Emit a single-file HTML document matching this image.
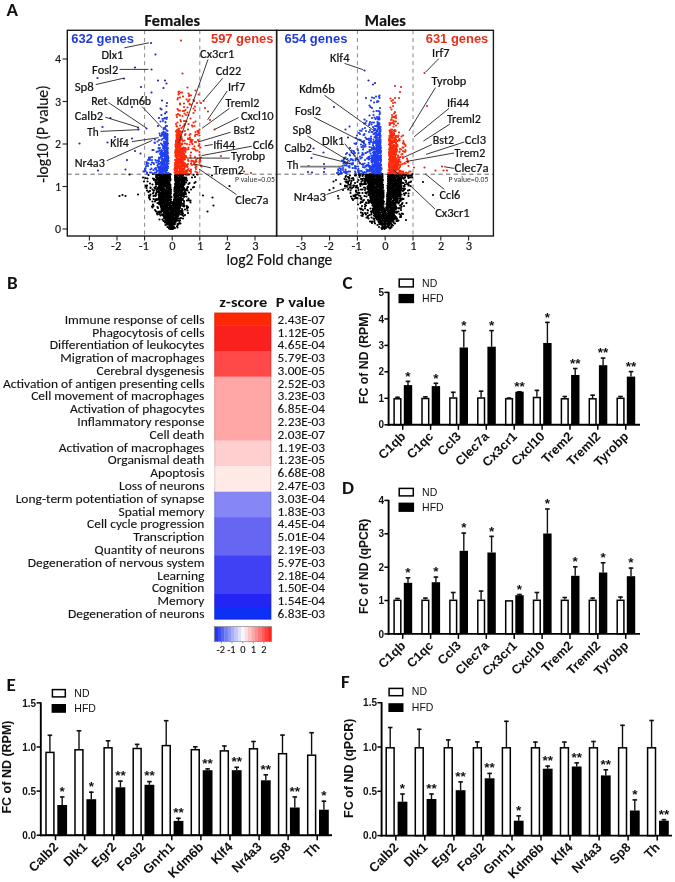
<!DOCTYPE html>
<html><head><meta charset="utf-8"><style>
html,body{margin:0;padding:0;background:#fff;}
svg{display:block;}
</style></head><body>
<svg width="675" height="882" viewBox="0 0 675 882" font-family="Carlito, 'Liberation Sans', sans-serif" fill="#111">
<rect width="675" height="882" fill="#fff"/>
<text x="6.6" y="16.4" font-size="19" font-weight="bold" textLength="11.5" lengthAdjust="spacingAndGlyphs">A</text>
<line x1="144.6" y1="30.3" x2="144.6" y2="236.0" stroke="#8a8a8a" stroke-width="1" stroke-dasharray="4,3.7"/>
<line x1="199.8" y1="30.3" x2="199.8" y2="236.0" stroke="#8a8a8a" stroke-width="1" stroke-dasharray="4,3.7"/>
<line x1="67.3" y1="174.2" x2="276.6" y2="174.2" stroke="#6a6a6a" stroke-width="1" stroke-dasharray="4.4,3.3"/>
<rect x="67.3" y="30.3" width="209.3" height="205.7" fill="none" stroke="#1a1a1a" stroke-width="1.4"/>
<line x1="89.4" y1="236.0" x2="89.4" y2="240.5" stroke="#222" stroke-width="1.1"/>
<text x="88.6" y="249.6" font-size="12.5" text-anchor="middle" textLength="10.2" lengthAdjust="spacingAndGlyphs" stroke="#111" stroke-width="0.15">-3</text>
<line x1="117.0" y1="236.0" x2="117.0" y2="240.5" stroke="#222" stroke-width="1.1"/>
<text x="116.2" y="249.6" font-size="12.5" text-anchor="middle" textLength="10.2" lengthAdjust="spacingAndGlyphs" stroke="#111" stroke-width="0.15">-2</text>
<line x1="144.6" y1="236.0" x2="144.6" y2="240.5" stroke="#222" stroke-width="1.1"/>
<text x="143.8" y="249.6" font-size="12.5" text-anchor="middle" textLength="10.2" lengthAdjust="spacingAndGlyphs" stroke="#111" stroke-width="0.15">-1</text>
<line x1="172.2" y1="236.0" x2="172.2" y2="240.5" stroke="#222" stroke-width="1.1"/>
<text x="172.5" y="249.6" font-size="12.5" text-anchor="middle" textLength="6.3" lengthAdjust="spacingAndGlyphs" stroke="#111" stroke-width="0.15">0</text>
<line x1="199.8" y1="236.0" x2="199.8" y2="240.5" stroke="#222" stroke-width="1.1"/>
<text x="200.1" y="249.6" font-size="12.5" text-anchor="middle" textLength="6.3" lengthAdjust="spacingAndGlyphs" stroke="#111" stroke-width="0.15">1</text>
<line x1="227.4" y1="236.0" x2="227.4" y2="240.5" stroke="#222" stroke-width="1.1"/>
<text x="227.7" y="249.6" font-size="12.5" text-anchor="middle" textLength="6.3" lengthAdjust="spacingAndGlyphs" stroke="#111" stroke-width="0.15">2</text>
<line x1="255.0" y1="236.0" x2="255.0" y2="240.5" stroke="#222" stroke-width="1.1"/>
<text x="255.3" y="249.6" font-size="12.5" text-anchor="middle" textLength="6.3" lengthAdjust="spacingAndGlyphs" stroke="#111" stroke-width="0.15">3</text>
<text x="172.2" y="26.1" font-size="16.3" text-anchor="middle" font-weight="bold" textLength="55.5" lengthAdjust="spacingAndGlyphs" stroke="#111" stroke-width="0.2">Females</text>
<line x1="357.4" y1="30.3" x2="357.4" y2="236.0" stroke="#8a8a8a" stroke-width="1" stroke-dasharray="4,3.7"/>
<line x1="413.0" y1="30.3" x2="413.0" y2="236.0" stroke="#8a8a8a" stroke-width="1" stroke-dasharray="4,3.7"/>
<line x1="276.6" y1="174.2" x2="493.4" y2="174.2" stroke="#6a6a6a" stroke-width="1" stroke-dasharray="4.4,3.3"/>
<rect x="276.6" y="30.3" width="216.8" height="205.7" fill="none" stroke="#1a1a1a" stroke-width="1.4"/>
<line x1="301.8" y1="236.0" x2="301.8" y2="240.5" stroke="#222" stroke-width="1.1"/>
<text x="301.0" y="249.6" font-size="12.5" text-anchor="middle" textLength="10.2" lengthAdjust="spacingAndGlyphs" stroke="#111" stroke-width="0.15">-3</text>
<line x1="329.6" y1="236.0" x2="329.6" y2="240.5" stroke="#222" stroke-width="1.1"/>
<text x="328.8" y="249.6" font-size="12.5" text-anchor="middle" textLength="10.2" lengthAdjust="spacingAndGlyphs" stroke="#111" stroke-width="0.15">-2</text>
<line x1="357.4" y1="236.0" x2="357.4" y2="240.5" stroke="#222" stroke-width="1.1"/>
<text x="356.6" y="249.6" font-size="12.5" text-anchor="middle" textLength="10.2" lengthAdjust="spacingAndGlyphs" stroke="#111" stroke-width="0.15">-1</text>
<line x1="385.2" y1="236.0" x2="385.2" y2="240.5" stroke="#222" stroke-width="1.1"/>
<text x="385.5" y="249.6" font-size="12.5" text-anchor="middle" textLength="6.3" lengthAdjust="spacingAndGlyphs" stroke="#111" stroke-width="0.15">0</text>
<line x1="413.0" y1="236.0" x2="413.0" y2="240.5" stroke="#222" stroke-width="1.1"/>
<text x="413.3" y="249.6" font-size="12.5" text-anchor="middle" textLength="6.3" lengthAdjust="spacingAndGlyphs" stroke="#111" stroke-width="0.15">1</text>
<line x1="440.8" y1="236.0" x2="440.8" y2="240.5" stroke="#222" stroke-width="1.1"/>
<text x="441.1" y="249.6" font-size="12.5" text-anchor="middle" textLength="6.3" lengthAdjust="spacingAndGlyphs" stroke="#111" stroke-width="0.15">2</text>
<line x1="468.6" y1="236.0" x2="468.6" y2="240.5" stroke="#222" stroke-width="1.1"/>
<text x="468.9" y="249.6" font-size="12.5" text-anchor="middle" textLength="6.3" lengthAdjust="spacingAndGlyphs" stroke="#111" stroke-width="0.15">3</text>
<text x="385.2" y="26.1" font-size="16.3" text-anchor="middle" font-weight="bold" textLength="41.0" lengthAdjust="spacingAndGlyphs" stroke="#111" stroke-width="0.2">Males</text>
<path d="M153 174h0m.5 0h0m4.5 .5h0m2.5 0h0m.5-.5h0m1 0h0m0 .5h0m1-.5h0m1 .5h0m2.5 0h0m.5-.5h0m0-.5h0m1 1h0m2-.5h0m5.5 0h0m0 0h0m2.5 .5h0m.5-1h0m1 .5h0m0 0h0m.5 0h0m2 0h0m1 0h0m1 0h0m1.5 .5h0m2.5 0h0m9 0h0m.5 0h0m-68 0h0m19 .5h0m7.5 0h0m.5 .5h0m0-1h0m2 1h0m.5-1h0m1.5 .5h0m0 0h0m1 0h0m1.5-.5h0m.5 .5h0m2 0h0m1 .5h0m2 0h0m1.5-.5h0m.5-.5h0m6.5 .5h0m.5 .5h0m.5 0h0m.5-1h0m1.5 .5h0m.5 .5h0m1.5-.5h0m1 .5h0m4-1h0m2 0h0m4.5 .5h0m-36 .5h0m0 .5h0m2-.5h0m0 .5h0m1 0h0m1.5-.5h0m1.5 1h0m3-.5h0m2.5-.5h0m.5 1h0m5.5-.5h0m0-.5h0m.5 1h0m1-.5h0m3.5 .5h0m0-1h0m1 0h0m.5 .5h0m1 .5h0m29.5-1h0m-69 2h0m13-.5h0m1 .5h0m.5 0h0m2 0h0m1-.5h0m1.5-.5h0m2 .5h0m1-.5h0m0 1h0m2.5-1h0m2.5 0h0m0 .5h0m6 0h0m1.5-.5h0m2 1h0m2.5 0h0m0-.5h0m13 0h0m-49.5 1h0m2 .5h0m9.5 0h0m1-.5h0m0 .5h0m1 0h0m4.5 0h0m.5-1h0m1.5 .5h0m1.5-.5h0m2 0h0m0 1h0m.5 0h0m.5-1h0m5 0h0m1 .5h0m1 .5h0m0-1h0m1 .5h0m.5-.5h0m1 1h0m2.5 0h0m1-1h0m.5 .5h0m.5-.5h0m.5 0h0m1.5 0h0m6 0h0m-39 1h0m1 .5h0m1 .5h0m2 0h0m1-.5h0m2 0h0m.5 0h0m1-.5h0m1 0h0m2.5 .5h0m1 0h0m2-.5h0m0 .5h0m2.5 0h0m4.5 0h0m1.5-.5h0m2.5 1h0m1 0h0m.5-1h0m4 .5h0m1 0h0m1-.5h0m-32.5 1.5h0m2 .5h0m2.5-1h0m0 1h0m1.5-.5h0m1-.5h0m2.5 .5h0m3 0h0m0 .5h0m.5-1h0m1 0h0m.5 .5h0m2 0h0m4.5 0h0m.5 .5h0m.5-1h0m1.5 1h0m0-.5h0m.5-.5h0m0 1h0m1 0h0m3-.5h0m0-.5h0m1 0h0m0 1h0m1.5 0h0m2-.5h0m.5 .5h0m-43 1h0m12-.5h0m2.5 0h0m1 0h0m.5-.5h0m1 1h0m.5-.5h0m1-.5h0m0 1h0m.5-1h0m1.5 0h0m1.5 1h0m2-.5h0m1 0h0m6.5 .5h0m2 0h0m2-.5h0m2-.5h0m0 .5h0m3 .5h0m-37 0h0m8 .5h0m2 0h0m1.5-.5h0m0 1h0m1-1h0m1 1h0m1.5-.5h0m1 .5h0m.5-1h0m.5 .5h0m2 0h0m.5-.5h0m1 1h0m0-.5h0m1-.5h0m.5 .5h0m0-.5h0m6.5 1h0m0-1h0m2.5 0h0m1 0h0m3 1h0m.5-.5h0m1.5 0h0m1.5 .5h0m9.5-.5h0m-45.5 1.5h0m6-.5h0m1.5-.5h0m1 .5h0m3 .5h0m0-1h0m.5 1h0m1-1h0m1.5 1h0m1.5-.5h0m1.5 0h0m2 0h0m6 .5h0m.5-1h0m2 .5h0m0-.5h0m2 .5h0m2-.5h0m2 .5h0m5.5 0h0m5 0h0m-38.5 1.5h0m0-.5h0m1.5 0h0m.5 0h0m.5-.5h0m0 .5h0m1.5-.5h0m2.5 .5h0m0 .5h0m1.5-1h0m1 .5h0m1 .5h0m1 0h0m1 0h0m.5-1h0m6.5 .5h0m1-.5h0m1 1h0m.5-1h0m1.5 0h0m0 0h0m2 0h0m0 .5h0m1.5-.5h0m.5 .5h0m1.5 0h0m0 .5h0m4-.5h0m-36 .5h0m6.5 0h0m1 1h0m.5-1h0m2 0h0m2 0h0m.5 1h0m3.5 0h0m1.5-.5h0m0-.5h0m.5 .5h0m7-.5h0m1 0h0m1 0h0m.5 .5h0m.5 .5h0m1.5-1h0m.5 .5h0m-36.5 .5h0m1 0h0m12 .5h0m.5-.5h0m0 1h0m2-1h0m2 0h0m0 .5h0m2.5 0h0m1 .5h0m0-1h0m1 0h0m7 1h0m.5-1h0m1.5 0h0m.5 .5h0m1.5-.5h0m1 .5h0m1.5 0h0m.5-.5h0m1 1h0m.5-1h0m46 .5h0m-83.5 .5h0m.5 0h0m9.5 0h0m0 0h0m3 1h0m.5-1h0m1 0h0m0 1h0m1.5-.5h0m.5-.5h0m.5 0h0m1 .5h0m1.5-.5h0m2 1h0m0-1h0m1.5 1h0m0-.5h0m0-.5h0m1.5 .5h0m5.5-.5h0m1 1h0m2-.5h0m0 .5h0m0-1h0m.5 1h0m1-1h0m2.5 0h0m4.5 .5h0m.5 0h0m5 .5h0m1-.5h0m-47.5 1h0m4 0h0m0-.5h0m4 0h0m.5 1h0m2.5-.5h0m.5-.5h0m.5 1h0m3-1h0m0 1h0m1.5-.5h0m1 .5h0m2.5-.5h0m2.5 .5h0m0 0h0m1.5-1h0m4 .5h0m1.5-.5h0m1 .5h0m2.5 .5h0m2-1h0m0 0h0m1 .5h0m1 .5h0m.5-.5h0m-27.5 1h0m.5 0h0m1.5 0h0m1.5 .5h0m0-1h0m1 .5h0m1.5 .5h0m0-1h0m.5 1h0m1-1h0m3 0h0m7.5 .5h0m.5-.5h0m2 1h0m2-1h0m.5 .5h0m0-.5h0m1.5 1h0m1.5-.5h0m1 .5h0m3.5-1h0m4 1h0m-38.5 0h0m1.5 1h0m2.5-.5h0m2.5 0h0m2 .5h0m1-.5h0m3-.5h0m0 .5h0m1-.5h0m.5 1h0m2-1h0m0 1h0m1.5-1h0m.5 1h0m0-1h0m.5 0h0m3.5 .5h0m.5 .5h0m.5-1h0m1 .5h0m.5 .5h0m1.5-1h0m.5 .5h0m2.5-.5h0m.5 0h0m.5 .5h0m1.5 0h0m1.5-.5h0m0 1h0m1.5-.5h0m.5 .5h0m-40.5 0h0m3 .5h0m3.5-.5h0m4.5 1h0m.5-.5h0m3-.5h0m1 0h0m1 1h0m0-.5h0m1 0h0m1 0h0m0 .5h0m4-.5h0m1 0h0m.5 0h0m3.5 .5h0m0-1h0m2 0h0m0 1h0m1-1h0m1.5 1h0m1.5-1h0m1.5 0h0m-33.5 1.5h0m.5-.5h0m4.5 1h0m3 0h0m.5-1h0m.5 .5h0m1.5 0h0m0-.5h0m2.5 0h0m1 .5h0m1.5 .5h0m1.5 0h0m1-1h0m1 0h0m1 1h0m.5-1h0m.5 1h0m1-1h0m4.5 0h0m.5 1h0m2.5-.5h0m2-.5h0m0 1h0m1-.5h0m0-.5h0m0 1h0m1 0h0m.5-1h0m2.5 0h0m.5 1h0m-24.5 0h0m.5 .5h0m1 .5h0m4.5-1h0m0 .5h0m.5 0h0m1.5 0h0m1.5 0h0m0 .5h0m.5-.5h0m3.5 .5h0m0 0h0m2.5-1h0m0 .5h0m0 .5h0m2 0h0m2.5 0h0m1-.5h0m1.5 0h0m5-.5h0m-51 2h0m15-1h0m0 0h0m3 0h0m3 .5h0m.5-.5h0m.5 0h0m1.5 1h0m0-1h0m2.5 0h0m1 .5h0m1-.5h0m1 0h0m1.5 1h0m2 0h0m5.5-1h0m.5 .5h0m2.5 0h0m0-.5h0m1.5 1h0m.5-.5h0m.5 0h0m3 .5h0m1-.5h0m.5 0h0m-63.5 1h0m28-.5h0m4.5 1h0m1-.5h0m2.5-.5h0m1 1h0m1-1h0m1 1h0m.5-1h0m2 0h0m1 0h0m2 0h0m3.5 0h0m0 .5h0m3.5 0h0m.5-.5h0m1.5 .5h0m2.5 0h0m.5 .5h0m2.5 0h0m1-1h0m0 .5h0m-63 1h0m6 0h0m23.5-.5h0m1 0h0m3.5 .5h0m2 0h0m3.5 0h0m1-.5h0m3 1h0m0-1h0m.5 1h0m1.5 0h0m0-1h0m0 .5h0m2-.5h0m.5 .5h0m0 .5h0m1-1h0m.5 .5h0m1 .5h0m.5-.5h0m4 .5h0m1-1h0m2 .5h0m.5-.5h0m1.5 0h0m1.5 1h0m1-.5h0m1 0h0m3.5 .5h0m16.5-1h0m-53.5 1.5h0m9.5 .5h0m1.5-1h0m0 0h0m.5 1h0m1.5-1h0m.5 1h0m2 0h0m1-1h0m1.5 .5h0m1 .5h0m1.5-.5h0m1.5 0h0m3 .5h0m1.5 0h0m.5-1h0m.5 1h0m1-.5h0m6 0h0m.5-.5h0m-35.5 1h0m10.5 .5h0m.5 0h0m.5 .5h0m1-.5h0m2.5 0h0m0-.5h0m2 0h0m2.5 1h0m1-.5h0m.5-.5h0m4.5 .5h0m.5 0h0m2.5-.5h0m1 1h0m1.5-1h0m1.5 1h0m0-.5h0m7 .5h0m24-1h0m-63 1h0m4 .5h0m1.5 .5h0m1.5-.5h0m1 0h0m1 0h0m1 .5h0m1.5 0h0m2.5 0h0m.5-1h0m2.5 0h0m.5 .5h0m1.5 0h0m1 0h0m1 0h0m.5 .5h0m5.5-1h0m1 0h0m2.5 1h0m3-.5h0m-33 .5h0m6 .5h0m1 0h0m.5-.5h0m2 .5h0m0-.5h0m1 1h0m1.5-1h0m.5 0h0m0 1h0m1.5-1h0m1 .5h0m.5-.5h0m1 0h0m2 .5h0m1-.5h0m4.5 1h0m0-1h0m1 0h0m2 0h0m1 1h0m.5-1h0m3 0h0m.5 0h0m.5 .5h0m6-.5h0m-36 2h0m7 0h0m0-1h0m1 0h0m1 1h0m.5-.5h0m5-.5h0m0 0h0m1.5 .5h0m2-.5h0m.5 1h0m3 0h0m.5 0h0m.5-1h0m1 0h0m1 .5h0m2 0h0m1.5 .5h0m.5-1h0m0 .5h0m3 0h0m3-.5h0m2 0h0m1.5 0h0m-35.5 1h0m4 1h0m1 0h0m2-.5h0m1-.5h0m.5 0h0m.5 0h0m2 0h0m.5 .5h0m.5-.5h0m1 0h0m2 1h0m2-.5h0m3.5 .5h0m2 0h0m0-1h0m1.5 .5h0m1 .5h0m1-.5h0m3 0h0m6.5 .5h0m-33 .5h0m2 .5h0m.5-.5h0m1-.5h0m1.5 .5h0m2 .5h0m0-1h0m2 1h0m.5-1h0m.5 .5h0m.5 0h0m.5 .5h0m1-.5h0m.5-.5h0m.5 0h0m.5 .5h0m1 0h0m2-.5h0m2.5 0h0m3 1h0m1 0h0m1-.5h0m-22.5 1h0m0 0h0m1.5 .5h0m2-1h0m1 0h0m3 1h0m.5-1h0m2.5 1h0m.5-.5h0m2-.5h0m1.5 0h0m1 0h0m.5 0h0m1.5 .5h0m.5-.5h0m1 1h0m.5-.5h0m1.5 .5h0m.5 0h0m.5-.5h0m2 0h0m1 0h0m-31 .5h0m7.5 .5h0m.5-.5h0m1 0h0m.5 0h0m0 .5h0m2.5-.5h0m0 0h0m2 .5h0m1 0h0m1-.5h0m3 1h0m1.5-1h0m.5 .5h0m1 0h0m.5-.5h0m.5 .5h0m1 0h0m.5 .5h0m1.5-.5h0m.5 0h0m4.5 .5h0m29.5 0h0m-61.5 1h0m1.5-.5h0m7-.5h0m1 .5h0m1 .5h0m.5-.5h0m1.5-.5h0m2 0h0m.5 .5h0m2-.5h0m.5 1h0m1-1h0m1 1h0m1 0h0m2-.5h0m.5-.5h0m.5 1h0m.5-.5h0m2.5 0h0m.5 0h0m0 .5h0m1.5-.5h0m.5-.5h0m2 .5h0m1 .5h0m2.5-.5h0m-34 1.5h0m5-.5h0m3.5 0h0m3.5 .5h0m0-1h0m1.5 0h0m1 0h0m3 .5h0m1.5 .5h0m.5 0h0m2-1h0m.5 0h0m.5 .5h0m2 .5h0m.5-1h0m0 .5h0m1.5 0h0m1 0h0m7 .5h0m.5-1h0m.5 1h0m-30 .5h0m3.5 .5h0m1.5-.5h0m0-.5h0m.5 1h0m2 0h0m0-.5h0m1.5-.5h0m1 0h0m.5 1h0m.5-.5h0m1.5 0h0m.5 .5h0m1-.5h0m1.5-.5h0m0 1h0m1 0h0m.5-1h0m3.5 .5h0m.5 0h0m1 0h0m7 .5h0m-25.5 1h0m.5 0h0m3-1h0m2.5 .5h0m0-.5h0m.5 .5h0m1 .5h0m1 0h0m1.5-.5h0m1 0h0m1.5 0h0m1 0h0m1-.5h0m.5 0h0m.5 .5h0m2 .5h0m3-.5h0m-27 1h0m6.5 .5h0m.5-1h0m1.5 0h0m2.5 1h0m.5-1h0m1 .5h0m2.5 0h0m1 0h0m1 .5h0m3-.5h0m1.5 .5h0m1 0h0m1-1h0m.5 0h0m3.5 1h0m2.5-1h0m2.5 1h0m-31 1h0m5 0h0m1.5-1h0m.5 .5h0m0 .5h0m1.5-1h0m.5 1h0m.5-.5h0m1 .5h0m1-1h0m2.5 .5h0m1 .5h0m.5-.5h0m1.5-.5h0m.5 .5h0m2.5 .5h0m1.5-1h0m.5 .5h0m1.5-.5h0m1.5 .5h0m26 .5h0m-51.5 0h0m2.5 .5h0m1-.5h0m5 .5h0m1.5 .5h0m.5-1h0m1.5 0h0m0 .5h0m2 0h0m2 0h0m2.5-.5h0m1 .5h0m0 .5h0m2-1h0m2.5 0h0m0 1h0m2.5-.5h0m-23.5 .5h0m0 0h0m2 0h0m3 .5h0m0-.5h0m.5 1h0m1 0h0m1.5-.5h0m.5-.5h0m4.5 .5h0m0 0h0m1-.5h0m3 .5h0m.5 0h0m2-.5h0m0 0h0m3 .5h0m1.5 .5h0m5-.5h0m-31 .5h0m2.5 .5h0m4 0h0m.5 0h0m2 0h0m1.5 0h0m1.5-.5h0m2 0h0m0 1h0m0-.5h0m1.5 .5h0m1-1h0m.5 .5h0m1-.5h0m.5 1h0m2 0h0m0-1h0m1.5 1h0m0-1h0m3.5 1h0m-25 0h0m3 1h0m1.5-1h0m1 0h0m0 0h0m0 1h0m.5-1h0m0 1h0m4.5-.5h0m1.5 0h0m0 0h0m1.5 .5h0m1.5 0h0m.5-.5h0m4 0h0m1.5 .5h0m2.5-1h0m1.5 .5h0m2.5 0h0m-21 1.5h0m1.5-1h0m1.5 0h0m1.5 1h0m3.5-1h0m1.5 0h0m1 0h0m1.5 1h0m1 0h0m6.5-.5h0m-17.5 .5h0m1 0h0m2.5 0h0m.5 1h0m1-1h0m.5 .5h0m.5 0h0m.5 0h0m0 0h0m1.5 .5h0m3.5 0h0m.5-1h0m-14 1.5h0m.5 0h0m1-.5h0m2 0h0m.5 .5h0m2-.5h0m2.5 .5h0m0 .5h0m2 0h0m.5-.5h0m1-.5h0m4.5 .5h0m.5 0h0m2 .5h0m-23.5 1h0m3 0h0m3-.5h0m.5-.5h0m1 0h0m.5 0h0m0 .5h0m1.5 .5h0m.5-1h0m.5 1h0m1-.5h0m1.5 .5h0m2.5 0h0m.5-1h0m.5 1h0m.5-1h0m1.5 0h0m2 0h0m-14 1.5h0m0-.5h0m.5 0h0m.5 .5h0m4.5 0h0m.5-.5h0m.5 1h0m1-.5h0m.5 0h0m1 0h0m1.5 .5h0m.5-.5h0m1.5 .5h0m-15 .5h0m1.5-.5h0m1 1h0m0-1h0m.5 .5h0m1-.5h0m1 1h0m.5-1h0m1 0h0m1.5 1h0m3.5-.5h0m1 .5h0m.5-.5h0m1-.5h0m2.5 0h0m-14 1.5h0m1.5 .5h0m.5-1h0m0 .5h0m1 0h0m2.5 .5h0m1-1h0m.5 .5h0m1 .5h0m1.5-.5h0m0 0h0m-10.5 .5h0m4 .5h0m0-.5h0m1 0h0m1 .5h0m1.5 .5h0m2 0h0m5-1h0m-13 1.5h0m.5-.5h0m1 0h0m0 1h0m1.5-.5h0m2.5 0h0m1 .5h0m.5-1h0m1 1h0m.5-.5h0m2.5 0h0m1 0h0m2-.5h0m-15 1.5h0m1-.5h0m3 1h0m.5-.5h0m0-.5h0m1.5 0h0m1.5 .5h0m4.5 .5h0m-7.5 0h0m.5 1h0m.5-.5h0m.5-.5h0m1 1h0m4.5 0h0m-9.5 .5h0m2-.5h0m.5 .5h0m1.5 0h0m.5-.5h0m1 .5h0m1 0h0m-5 1.5h0m0-.5h0m1.5-.5h0m0 .5h0m.5 .5h0m2-1h0m.5 1h0m1.5-.5h0m2.5-.5h0m-7.5 1.5h0m1.5 0h0m.5-.5h0m1 .5h0" stroke="#000" stroke-width="2.2" stroke-linecap="round" fill="none"/>
<path d="M165 118h0m2-.5h0m0 0h0m-4.5 1.5h0m1.5-.5h0m2.5 .5h0m-3.5 2h0m-2.5 .5h0m5 .5h0m0 .5h0m.5 3.5h0m1 0h0m-3 2h0m1-.5h0m-1.5 1.5h0m2 0h0m1 1h0m-3 1.5h0m4-.5h0m-4 1.5h0m-1.5 .5h0m3.5-.5h0m-6 1h0m2.5 1h0m1.5 0h0m1.5-.5h0m1 .5h0m1-.5h0m.5 0h0m0 0h0m-2.5 1h0m.5 .5h0m2-1h0m-7.5 1h0m1 .5h0m2.5 0h0m.5 0h0m3 0h0m.5-.5h0m0 .5h0m-3 .5h0m.5 .5h0m2 0h0m-3 1h0m2.5-.5h0m1 .5h0m-5 1h0m3-.5h0m0 .5h0m2 0h0m-12.5 .5h0m4 .5h0m2.5 0h0m5 .5h0m.5 .5h0m.5 0h0m-13 1.5h0m3-1h0m6.5 0h0m0 .5h0m1 0h0m.5 0h0m-10.5 1h0m9.5-.5h0m.5 1h0m.5-1h0m1 0h0m1 .5h0m0 0h0m.5 .5h0m-7 0h0m3 0h0m.5 .5h0m2 0h0m-7.5 1h0m3-.5h0m.5 1h0m2 0h0m1.5-.5h0m1.5 .5h0m-4 1.5h0m0-.5h0m.5 .5h0m1 0h0m1.5-.5h0m-8 1.5h0m.5 .5h0m1-.5h0m3 0h0m1.5 0h0m1-.5h0m1.5 .5h0m1 0h0m-3.5 .5h0m2 .5h0m.5 0h0m.5 0h0m-14 1h0m6 .5h0m2-.5h0m2.5 0h0m.5 0h0m2 0h0m.5 0h0m.5 0h0m-5.5 1h0m3 0h0m1 .5h0m.5-.5h0m1 0h0m-11 1h0m1-.5h0m1 0h0m2.5 .5h0m2 .5h0m2-1h0m1 .5h0m1 .5h0m.5-1h0m-7 1.5h0m4 0h0m3.5 0h0m-8 1h0m.5 0h0m1.5 0h0m.5-.5h0m1.5 .5h0m2 0h0m1.5-.5h0m-5.5 1h0m1 0h0m1 .5h0m2-.5h0m1.5 .5h0m-6.5 1h0m1 0h0m.5 0h0m.5 0h0m1.5 0h0m1 0h0m.5 0h0m0-.5h0m.5 .5h0m1.5 0h0m-18 1.5h0m2-.5h0m9 0h0m1 0h0m3 .5h0m0-.5h0m.5 .5h0m2 0h0m.5-.5h0m0 0h0m-19 .5h0m0 1h0m1-.5h0m9-.5h0m.5 .5h0m9 0h0m-9.5 .5h0m2.5 .5h0m1 0h0m.5 .5h0m1.5-1h0m.5 1h0m1.5-1h0m0 .5h0m1.5 0h0m-20 1h0m2 0h0m2 0h0m0 0h0m3.5 0h0m.5 .5h0m3-.5h0m3.5 0h0m2.5 0h0m.5 0h0m1.5 0h0m1 0h0m-10 .5h0m.5 1h0m.5 0h0m3-.5h0m.5 0h0m.5 .5h0m0-.5h0m1.5 0h0m1 0h0m2 .5h0m1-.5h0m-22 1.5h0m0-.5h0m5.5 .5h0m9-.5h0m3 0h0m1 0h0m2 0h0m-19.5 1h0m.5 .5h0m.5 0h0m5-.5h0m3-.5h0m4.5 .5h0m2 0h0m0-.5h0m1.5 0h0m2.5 .5h0m1.5 .5h0m-21.5 .5h0m4 .5h0m3-.5h0m4.5 0h0m0-.5h0m1 .5h0m2-.5h0m.5 0h0m1.5 .5h0m0 0h0m.5-.5h0m2 .5h0m.5 0h0m1 0h0m-21 .5h0m15 .5h0m1 0h0m1 0h0m.5 0h0m1 0h0m-17 1h0m9.5-.5h0m1.5 1h0m2-.5h0m2.5 0h0m2.5 0h0m1 0h0m.5 0h0m-21.5 .5h0m12 .5h0m2 0h0m.5 .5h0m2 0h0m1-.5h0m1 0h0m0 0h0m1.5-.5h0m0 .5h0m2-.5h0m-22.5 2h0m6 0h0m4.5-.5h0m2.5 0h0m3-.5h0m1 .5h0m1 .5h0m1.5-.5h0m2 0h0m1 0h0m-23 .5h0m10 0h0m4 .5h0m.5 0h0m1.5 0h0m0 0h0m1.5 0h0m2.5-.5h0m1.5 1h0m0-1h0m.5 1h0m.5-1h0m-22.5 1.5h0m5.5-.5h0m3 .5h0m2.5-.5h0m.5 .5h0m2.5 .5h0m1 0h0m2.5-.5h0m2 0h0m2 0h0m.5 .5h0m-22.5 .5h0m1 0h0m11.5 .5h0m.5-.5h0m3 .5h0m0-.5h0m1.5 0h0m1 0h0m.5-.5h0m1 .5h0m1 0h0m-22 .5h0m3.5 1h0m8 0h0m1 0h0m4-.5h0m1 0h0m1.5 .5h0m0-.5h0m3.5 0h0m-19 1.5h0m3-1h0m1.5 0h0m7.5 .5h0m1 0h0m2 .5h0m1-.5h0m2 0h0m1 0h0m.5 0h0m0 .5h0m2-.5h0m-15 .5h0m9 0h0" stroke="#1f3ff0" stroke-width="2.2" stroke-linecap="round" fill="none"/>
<path d="M151 43h0m4.5 11.5h0m-20.5 13h0m16.5 2h0m-54 8.5h0m26.5 .5h0m34 2h0m7 0h0m1.5 3h0m-25.5 3.5h0m22.5 1h0m-12 4.5h0m10.5 8h0m5 2.5h0m-.5 3h0m-34.5 1h0m28.5 1.5h0m1 1h0m5 2.5h0m-1.5 1.5h0m-3.5 1.5h0m-51 3h0m48.5 0h0m-1 8h0m-55.5 1h0m35.5 .5h0m8.5 1h0m-8 1h0m-23.5 7.5h0m17 1.5h0m-52.5 5h0m28-1h0m45 7.5h0m-17.5 1h0m5.5 2.5h0m-13.5 6.5h0m-1.5 9.5h0m-27.5 1h0" stroke="#2626b8" stroke-width="2.2" stroke-linecap="round" fill="none"/>
<path d="M179 91.5h0m-.5 .5h0m2.5 .5h0m1 0h0m6.5 1h0m-9.5 0h0m-.5 1h0m11 .5h0m1.5 .5h0m-2 .5h0m-9 1.5h0m-2 .5h0m11.5 1.5h0m-12 0h0m9 0h0m2 1h0m-.5 1h0m.5-.5h0m1 3h0m.5 .5h0m1 0h0m-7 2.5h0m3.5 .5h0m6 1h0m-16 .5h0m1 1.5h0m1.5 0h0m5.5-.5h0m-2.5 1h0m1 0h0m11-.5h0m-7.5 2h0m-9.5 1.5h0m6.5-.5h0m-8 1.5h0m3 0h0m6.5 0h0m2.5 0h0m-8.5 .5h0m2.5 .5h0m-5.5 1h0m3.5 3h0m.5 1.5h0m3-.5h0m1 0h0m1.5 .5h0m7 1h0m-16 0h0m-1.5 1.5h0m8.5 0h0m0 1h0m7.5 .5h0m-15.5 .5h0m.5 .5h0m3-1h0m3 1h0m11.5-.5h0m-2 .5h0m-13.5 2h0m2.5-.5h0m-4 1.5h0m-1 1h0m2.5 0h0m0-.5h0m20.5-.5h0m-23.5 2h0m1 0h0m1-1h0m2 .5h0m2.5 .5h0m2.5-.5h0m12.5 0h0m1 0h0m-22 1h0m3 0h0m2 0h0m14 0h0m2.5 0h0m-19.5 1.5h0m0-1h0m1 .5h0m19.5 0h0m-22 1h0m2 0h0m0-.5h0m1 .5h0m.5 0h0m5 0h0m10 .5h0m2 0h0m-21 1h0m0-1h0m3.5 1h0m9.5-.5h0m10 .5h0m-23 .5h0m1.5-.5h0m.5 .5h0m16.5 0h0m-18 .5h0m1.5 0h0m1.5 .5h0m1.5 0h0m-5 1h0m.5 0h0m.5-.5h0m1 0h0m.5 .5h0m2.5 0h0m6.5 .5h0m2-1h0m-12.5 1h0m1 .5h0m2 .5h0m1-.5h0m6.5 0h0m1.5 0h0m1.5 .5h0m-14.5 .5h0m1.5-.5h0m1 .5h0m3-.5h0m2.5 1h0m8-.5h0m5.5 0h0m-22 1h0m0-.5h0m.5 1h0m.5-1h0m1 .5h0m.5 .5h0m2-1h0m2.5 .5h0m7.5 0h0m1.5 0h0m6.5 0h0m-22.5 1h0m.5 0h0m14 0h0m4.5 0h0m1 0h0m-20 1h0m1 0h0m1.5-.5h0m.5 0h0m.5 0h0m.5 .5h0m2 .5h0m.5 0h0m2.5 0h0m6.5-1h0m-16 2h0m2.5-1h0m.5 .5h0m1.5-.5h0m0 .5h0m7 0h0m5.5 0h0m7 0h0m-23.5 1.5h0m.5-1h0m0 .5h0m.5 0h0m1.5 0h0m2 .5h0m1.5-1h0m7.5 0h0m9.5 1h0m-23.5 .5h0m1 .5h0m1 0h0m1.5-1h0m1 .5h0m.5 0h0m18 0h0m-22 1.5h0m2.5-.5h0m.5 0h0m4 .5h0m5 0h0m6-1h0m6 1h0m-24.5 0h0m0 .5h0m2-.5h0m2.5 .5h0m2 0h0m2 0h0m1 0h0m7 .5h0m-16 0h0m1 .5h0m1.5-.5h0m.5 .5h0m.5-.5h0m.5 .5h0m.5 .5h0m0-.5h0m1 0h0m2 0h0m4.5 0h0m5.5 0h0m1 .5h0m-19.5 .5h0m.5-.5h0m2 1h0m4-.5h0m1 .5h0m2-.5h0m.5 0h0m1.5-.5h0m9 1h0m-20 .5h0m0 0h0m1.5-.5h0m1 0h0m0 .5h0m.5 0h0m0-.5h0m1 .5h0m1 0h0m16.5-.5h0m-22.5 1.5h0m1 0h0m1.5-.5h0m4.5 0h0m1.5 .5h0m1-.5h0m1 .5h0m14 0h0m-24 1.5h0m1-.5h0m1.5-.5h0m.5 0h0m1.5 0h0m1 .5h0m1.5 0h0m0 0h0m-6 1.5h0m2-.5h0m.5 0h0m1 0h0m2.5 .5h0m2-.5h0m-9 1h0m1-.5h0m2.5 .5h0m.5-.5h0m2.5 1h0m1-1h0m.5 0h0m7 1h0m9-.5h0m-24 .5h0m.5 1h0m0-1h0m1 1h0m0-1h0m2.5 .5h0m1-.5h0m.5 0h0m.5 .5h0m1.5 .5h0m2-.5h0m1 0h0m-10.5 .5h0m2.5 .5h0m2 0h0m2 .5h0m2.5 0h0m2 0h0m4 0h0m4.5-.5h0m6 .5h0m-24.5 0h0m4.5 .5h0m0 .5h0m1 0h0m1 0h0m.5-.5h0m1 .5h0m.5-.5h0m12.5 .5h0m2.5-.5h0m-23.5 1.5h0m0-.5h0m.5 0h0m1-.5h0m1.5 .5h0m-4.5 1h0m2.5-.5h0m3 1h0m.5-1h0m1.5 0h0m.5 .5h0m0-.5h0m1 0h0m1 0h0m3 .5h0m3.5 .5h0m4.5-.5h0m4-.5h0m-24 1.5h0m1.5-.5h0m.5 1h0m.5-1h0m1 .5h0m1 .5h0m1-.5h0m7 0h0m0 0h0m3 0h0m0 .5h0m1.5-.5h0m1.5 .5h0m2 0h0m3-.5h0m1 0h0m-24.5 1h0m.5 0h0m2.5-.5h0m1.5 .5h0m1 0h0m.5-.5h0m.5 1h0m1-.5h0m12 0h0m-20.5 1h0m2 0h0m1.5-.5h0m2 .5h0m0 .5h0m2 0h0m1.5-.5h0m1 .5h0m9-.5h0m5.5-.5h0m-23 1h0m.5 .5h0m1.5 0h0m1.5-.5h0m3.5 .5h0m1 .5h0m3.5-.5h0m3-.5h0m3 .5h0m0 .5h0m-19 .5h0m.5-.5h0m2 0h0m.5 .5h0m.5 0h0m2 .5h0m.5 0h0m.5-1h0m0 0h0m1 1h0m2-.5h0m1.5-.5h0m1 1h0m4.5-1h0m.5 .5h0m3.5 0h0m5.5 .5h0m-26 .5h0m0-.5h0m1.5 1h0m.5-1h0m0 1h0m2-.5h0m1 .5h0m1 0h0m1 0h0m2-.5h0m12.5 .5h0m-21.5 1h0m3.5 0h0m.5-.5h0m.5 0h0m2 .5h0m0-.5h0m2.5-.5h0m1 0h0m0 .5h0m1-.5h0m1.5 .5h0m8.5-.5h0m-19.5 2h0m.5-1h0m2 1h0m1-1h0m2 0h0m1 1h0m1.5-.5h0m11-.5h0m-21 1.5h0m.5 0h0m2-.5h0m0 1h0m2.5-.5h0m1 0h0m1 .5h0m1-.5h0m5.5 .5h0m.5-.5h0m7.5 0h0m-21.5 .5h0m.5 1h0m1-.5h0m1 .5h0m2.5 0h0m4.5-1h0m3.5 .5h0m3.5-.5h0m0 .5h0m-14.5 .5h0m.5 1h0m3-1h0m2 .5h0m.5-.5h0m1 0h0m.5 .5h0m2-.5h0m0 0h0m3.5 .5h0m-14.5 1.5h0m.5-1h0m1.5 0h0m1 0h0m1 1h0m0-.5h0m1.5 0h0m0-.5h0m1.5 1h0m.5-1h0m1 0h0m0 1h0m1 0h0m.5-1h0m1.5 .5h0m.5-.5h0m4 .5h0m4.5-.5h0m1.5 1h0m-22.5 0h0m2 1h0m1.5 0h0m1-1h0m2 1h0m1.5-1h0m.5 1h0m1 0h0m0-1h0m.5 .5h0m.5 .5h0m1.5 0h0m1.5 0h0m2.5 0h0m7-1h0m-21.5 1h0m3 0h0m6.5 0h0" stroke="#ff2a0c" stroke-width="2.2" stroke-linecap="round" fill="none"/>
<path d="M181 40.5h0m1.5 33h0m5 14h0m8 3h0m3 4h0m-15.5 2h0m10.5 3.5h0m.5 1h0m9.5 0h0m-23.5 2.5h0m17-.5h0m4 0h0m-17 .5h0m-4 1h0m15 2h0m10 1.5h0m3 3.5h0m-14.5 1.5h0m-3 5.5h0m19.5 1.5h0m-14.5 1.5h0m-7 2.5h0m-.5 5.5h0m26.5 0h0m-24 4.5h0m-5.5 1h0m6 17.5h0m30 3.5h0m-19.5 10.5h0m42.5 5h0m7 1.5h0" stroke="#d82c1c" stroke-width="2.2" stroke-linecap="round" fill="none"/>
<path d="M355.5 174h0m3.5 0h0m4 .5h0m.5-.5h0m3.5 .5h0m1.5 0h0m1.5-.5h0m1.5 0h0m.5-.5h0m.5 .5h0m.5 0h0m2 .5h0m1-.5h0m1.5 0h0m.5 0h0m1 0h0m3.5 0h0m5.5 .5h0m1.5 0h0m1-.5h0m0 0h0m1.5 .5h0m2-.5h0m1 0h0m2 0h0m3.5 .5h0m1.5-1h0m.5 .5h0m10 0h0m-74 .5h0m17.5 1h0m3-.5h0m1.5-.5h0m2.5 .5h0m2.5 0h0m0 0h0m.5-.5h0m3.5 .5h0m1.5-.5h0m3 .5h0m.5 0h0m0-.5h0m2 .5h0m.5-.5h0m1.5 .5h0m.5 .5h0m.5-1h0m.5 1h0m1-1h0m1 0h0m.5 1h0m5.5-1h0m.5 1h0m2.5-1h0m1.5 1h0m.5-1h0m1.5 0h0m.5 1h0m1-1h0m.5 1h0m0-1h0m2.5 0h0m.5 .5h0m1 0h0m3-.5h0m1 1h0m0-1h0m1.5 1h0m.5-1h0m0 1h0m4 0h0m-64.5 .5h0m4-.5h0m5 0h0m5 0h0m2.5 .5h0m3 .5h0m1 0h0m1-1h0m1.5 .5h0m1.5 .5h0m.5-1h0m1.5 .5h0m2.5 .5h0m0-1h0m2.5 0h0m.5 .5h0m3 .5h0m1.5 0h0m0-.5h0m0-.5h0m5.5 1h0m.5 0h0m.5 0h0m1.5-1h0m1 1h0m2.5-1h0m2 .5h0m1-.5h0m.5 1h0m1.5-1h0m.5 0h0m1.5 .5h0m0-.5h0m1 .5h0m1-.5h0m5.5 0h0m1.5 .5h0m1.5-.5h0m.5 .5h0m-66.5 1h0m2.5 0h0m1 .5h0m10.5-.5h0m8-.5h0m.5 1h0m.5-.5h0m.5 .5h0m1.5 0h0m1.5-.5h0m1.5-.5h0m1 .5h0m2-.5h0m1 0h0m2 0h0m1.5 .5h0m1 0h0m6 0h0m.5 0h0m2 0h0m1.5 0h0m1.5-.5h0m.5 .5h0m3-.5h0m1 .5h0m1.5 .5h0m1-1h0m.5 .5h0m.5 .5h0m.5-.5h0m6-.5h0m2 1h0m2 0h0m-59 .5h0m13-.5h0m1 1h0m3-1h0m.5 .5h0m1 0h0m.5 0h0m3 .5h0m2-.5h0m0 .5h0m0-.5h0m.5-.5h0m1 0h0m1.5 .5h0m2.5-.5h0m5.5 1h0m1-1h0m2.5 0h0m.5 .5h0m2 0h0m2-.5h0m0 0h0m2 1h0m3.5 0h0m2-.5h0m1 0h0m.5-.5h0m3.5 .5h0m-64 1h0m4.5-.5h0m2.5 0h0m2 .5h0m7.5 0h0m1 0h0m1.5-.5h0m1.5 .5h0m2 .5h0m1.5 0h0m.5-1h0m0 0h0m1.5 .5h0m1-.5h0m.5 1h0m1.5-1h0m.5 1h0m1.5 0h0m1.5 0h0m1.5 0h0m1-.5h0m.5 .5h0m2-1h0m.5 .5h0m5.5 .5h0m1.5-1h0m0 1h0m.5-.5h0m1.5-.5h0m1 .5h0m.5-.5h0m.5 .5h0m1-.5h0m1 .5h0m4-.5h0m0 .5h0m.5-.5h0m3.5 0h0m-67.5 1.5h0m10.5-.5h0m7 .5h0m5 0h0m6.5-.5h0m1.5 .5h0m0 .5h0m1-.5h0m4.5-.5h0m.5 .5h0m.5 .5h0m4-.5h0m1.5 0h0m2-.5h0m.5 1h0m0-1h0m1 1h0m1-.5h0m5 0h0m0 0h0m4-.5h0m1 1h0m1.5-1h0m1 0h0m0 .5h0m1.5-.5h0m1.5 0h0m.5 .5h0m2 .5h0m0-1h0m4.5 1h0m-72 1h0m12 0h0m4-1h0m2 .5h0m11-.5h0m2 .5h0m1 0h0m2 .5h0m.5-.5h0m1.5-.5h0m0 0h0m1 0h0m1.5 0h0m1.5 .5h0m1.5-.5h0m0 1h0m1.5 0h0m1 0h0m1 0h0m.5-1h0m1.5 0h0m1 .5h0m0 .5h0m7.5-1h0m0 .5h0m2-.5h0m.5 0h0m1.5 .5h0m1.5-.5h0m.5 .5h0m1.5-.5h0m1.5 0h0m1 .5h0m1.5 0h0m.5-.5h0m5 .5h0m-58.5 .5h0m1 0h0m9 .5h0m4-.5h0m3.5 .5h0m4 .5h0m.5-1h0m1 .5h0m1.5 0h0m0-.5h0m2 1h0m1 0h0m1-1h0m4.5 1h0m2-.5h0m5.5-.5h0m2.5 .5h0m.5-.5h0m1 .5h0m1-.5h0m3 .5h0m1-.5h0m1 0h0m1.5 .5h0m2.5 .5h0m4-.5h0m3 .5h0m1.5-.5h0m.5-.5h0m12 .5h0m-76.5 .5h0m1.5 .5h0m3 0h0m4 0h0m9.5 0h0m.5-.5h0m0 .5h0m2.5-.5h0m2 0h0m.5 .5h0m.5 .5h0m0-.5h0m2 0h0m3.5-.5h0m.5 .5h0m1.5-.5h0m.5 .5h0m.5 .5h0m1-1h0m1 0h0m0 1h0m1 0h0m6 0h0m1-1h0m.5 .5h0m0 .5h0m.5-1h0m2 1h0m2 0h0m.5-1h0m1 .5h0m.5 0h0m1.5-.5h0m.5 0h0m1.5 .5h0m0-.5h0m1.5 1h0m.5 0h0m0-1h0m2 .5h0m-63 1h0m8 .5h0m2 0h0m9.5-.5h0m1-.5h0m.5 .5h0m2 0h0m1 0h0m1.5 0h0m2.5-.5h0m.5 0h0m.5 .5h0m1 0h0m1 0h0m0-.5h0m1.5 1h0m1.5-1h0m1 1h0m2.5-1h0m1.5 0h0m.5 0h0m1 1h0m.5-.5h0m1.5 .5h0m7.5-.5h0m1-.5h0m1 0h0m.5 .5h0m2.5 0h0m.5 .5h0m1.5-.5h0m.5-.5h0m1 0h0m8 .5h0m1 0h0m-57.5 1.5h0m3 0h0m9-1h0m6 .5h0m1.5 .5h0m1-1h0m0 .5h0m.5 0h0m2.5 .5h0m2-1h0m1 0h0m.5 1h0m0-1h0m.5 0h0m1 .5h0m.5 0h0m2.5 .5h0m6 0h0m.5-1h0m.5 1h0m3-1h0m0 1h0m1.5 0h0m1-1h0m1.5 1h0m.5-1h0m2.5 1h0m1.5-1h0m0 .5h0m.5 .5h0m4-1h0m-60 1h0m0 1h0m1.5-.5h0m.5 0h0m7-.5h0m2 .5h0m0 0h0m1 0h0m3.5 0h0m9.5 0h0m2 .5h0m.5-1h0m.5 .5h0m.5 .5h0m3.5-1h0m1.5 .5h0m.5 0h0m2.5-.5h0m0 1h0m1-.5h0m.5 0h0m4.5-.5h0m1 0h0m1.5 .5h0m1 0h0m0-.5h0m1 1h0m2-1h0m.5 1h0m1.5-1h0m.5 .5h0m1 .5h0m.5-1h0m1 0h0m1 0h0m1.5 0h0m2.5 1h0m0-.5h0m.5 .5h0m4-1h0m2 .5h0m-57 1h0m3 0h0m11-.5h0m1 .5h0m.5-.5h0m.5 0h0m2 .5h0m2.5 0h0m1-.5h0m.5 1h0m1 0h0m0-1h0m1.5 .5h0m1 0h0m1-.5h0m8 0h0m1.5 1h0m2.5-.5h0m.5 0h0m1 0h0m0 .5h0m2.5-1h0m1.5 .5h0m1.5 0h0m1.5-.5h0m0 .5h0m1 0h0m-68 1h0m16.5-.5h0m1.5 1h0m.5-.5h0m4-.5h0m2 .5h0m6-.5h0m1.5 .5h0m2.5 0h0m1.5-.5h0m.5 0h0m1.5 1h0m.5-.5h0m1.5-.5h0m.5 0h0m1 .5h0m.5 .5h0m2.5-1h0m2 .5h0m1-.5h0m.5 1h0m1-1h0m.5 0h0m0 .5h0m4.5 0h0m1.5 0h0m.5 0h0m.5-.5h0m1.5 0h0m.5 1h0m2.5 0h0m.5 0h0m1.5 0h0m.5-1h0m1.5 .5h0m.5-.5h0m1 1h0m.5-1h0m0 0h0m3 1h0m-55 .5h0m19 0h0m1.5 0h0m1.5 0h0m0 .5h0m.5-1h0m2.5 0h0m1.5 0h0m.5 0h0m.5 1h0m1 0h0m0-1h0m.5 0h0m.5 1h0m1 0h0m1.5-.5h0m1 0h0m1-.5h0m5.5 .5h0m0 .5h0m0-1h0m1 1h0m1.5-1h0m0 1h0m1-1h0m2.5 1h0m1-.5h0m0 .5h0m1.5-.5h0m1 0h0m1.5 0h0m1.5 0h0m.5-.5h0m.5 0h0m3 .5h0m.5 0h0m-75.5 1h0m13.5 0h0m5-.5h0m10.5 .5h0m2.5-.5h0m1.5 0h0m2.5 .5h0m3.5 0h0m1 0h0m3 0h0m1-.5h0m2 1h0m4 0h0m2 0h0m.5 0h0m.5-1h0m5.5 1h0m2-.5h0m.5 .5h0m1.5-1h0m1 0h0m0 .5h0m1 .5h0m1-.5h0m1.5 0h0m.5 .5h0m1 0h0m.5-.5h0m1 .5h0m.5-1h0m0 .5h0m1.5 .5h0m1 0h0m1.5-.5h0m5.5 0h0m-59 .5h0m5.5 0h0m13 0h0m1 0h0m.5 0h0m1.5 0h0m1 1h0m.5-1h0m2 0h0m0 1h0m0-.5h0m1.5-.5h0m0 1h0m2-1h0m1 0h0m0 .5h0m2 0h0m1 .5h0m0-.5h0m.5-.5h0m4.5 .5h0m1-.5h0m2 1h0m4-.5h0m1 0h0m1.5 .5h0m2-1h0m3.5 .5h0m5-.5h0m-52 1h0m.5 .5h0m9.5 .5h0m1 0h0m1-.5h0m1 0h0m1.5-.5h0m0 1h0m.5-.5h0m1-.5h0m2.5 .5h0m0 .5h0m2.5 0h0m1-1h0m.5 .5h0m1 0h0m0 .5h0m.5-1h0m.5 0h0m3 .5h0m4 .5h0m.5 0h0m1-1h0m.5 .5h0m.5-.5h0m2 0h0m1 .5h0m2 0h0m2 0h0m0 0h0m1.5 .5h0m.5-1h0m1 0h0m-49.5 1.5h0m8-.5h0m1 .5h0m3 0h0m3-.5h0m0 .5h0m.5 0h0m.5 .5h0m3 0h0m1-.5h0m.5 .5h0m.5-1h0m1 .5h0m.5 .5h0m.5-1h0m2 .5h0m.5 0h0m2 .5h0m2.5-1h0m1 .5h0m1 .5h0m0-1h0m1 .5h0m5.5 .5h0m1-1h0m.5 0h0m0 .5h0m1.5 0h0m.5-.5h0m.5 0h0m0 1h0m.5-.5h0m1.5 .5h0m1-.5h0m0-.5h0m2 0h0m1 0h0m1.5 0h0m5.5 .5h0m-50.5 1.5h0m2-.5h0m9-.5h0m2.5 .5h0m2-.5h0m2 .5h0m1.5 0h0m2.5-.5h0m1 .5h0m1-.5h0m.5 .5h0m1-.5h0m3 1h0m4-1h0m1.5 .5h0m.5 0h0m2 .5h0m.5 0h0m1.5 0h0m.5-.5h0m3.5-.5h0m1.5 0h0m.5 .5h0m.5 0h0m4-.5h0m1 0h0m3.5 0h0m-52.5 1.5h0m3 .5h0m9.5-.5h0m1-.5h0m.5 1h0m1.5-1h0m2 1h0m1.5-.5h0m1.5 0h0m1.5 .5h0m0-1h0m2 .5h0m1-.5h0m1 .5h0m5 0h0m0 0h0m1.5 .5h0m.5-.5h0m.5 0h0m2-.5h0m0 .5h0m3.5-.5h0m1 .5h0m.5-.5h0m.5 0h0m1 1h0m1-.5h0m0 0h0m1.5 .5h0m1-1h0m3 .5h0m28.5 0h0m-95 1h0m13 .5h0m2.5-1h0m0 .5h0m1-.5h0m.5 .5h0m5.5 0h0m4 0h0m2 .5h0m4 0h0m1.5 0h0m.5-1h0m1.5 1h0m.5-1h0m.5 1h0m1.5-1h0m.5 .5h0m1 .5h0m1 0h0m1.5 0h0m.5-1h0m0 1h0m1-1h0m.5 1h0m.5-1h0m.5 0h0m0 1h0m6.5-.5h0m1.5-.5h0m1 1h0m.5-1h0m1 .5h0m1 .5h0m3 0h0m1 0h0m1.5 0h0m8-.5h0m-38.5 1h0m0 0h0m2 .5h0m0-.5h0m1 0h0m1-.5h0m0 .5h0m1.5 0h0m1 .5h0m3 0h0m1.5-.5h0m1.5 0h0m4.5-.5h0m.5 0h0m0 1h0m2-1h0m1 0h0m0 1h0m1.5-.5h0m.5 .5h0m1-.5h0m2 0h0m1-.5h0m-44.5 2h0m2.5 0h0m1.5-.5h0m.5-.5h0m0 0h0m1 .5h0m4 0h0m9 0h0m1.5 .5h0m.5 0h0m1-1h0m1.5 .5h0m1-.5h0m1 .5h0m1.5 .5h0m1 0h0m1-1h0m2 .5h0m.5 0h0m.5-.5h0m5 0h0m1 1h0m1-.5h0m.5 .5h0m2.5-.5h0m.5-.5h0m.5 1h0m2-.5h0m.5 .5h0m0-1h0m1 1h0m2 0h0m-61.5 0h0m19 0h0m3 0h0m1 1h0m9.5 0h0m.5-.5h0m5 .5h0m1-.5h0m.5 0h0m1.5 .5h0m1 0h0m1-1h0m1 .5h0m.5 0h0m4 0h0m.5 0h0m.5-.5h0m.5 .5h0m5 .5h0m0-1h0m2 1h0m2.5-1h0m3 0h0m0 1h0m1 0h0m.5-1h0m1 .5h0m-50.5 1h0m11 0h0m4 0h0m1.5 .5h0m2 0h0m1 0h0m1 0h0m0-1h0m1 .5h0m.5-.5h0m4.5 .5h0m.5 0h0m1.5 0h0m1-.5h0m5 1h0m1.5 0h0m1.5-.5h0m.5-.5h0m3.5 0h0m.5 1h0m0-.5h0m.5 .5h0m1.5 0h0m.5-1h0m2 1h0m-36.5 .5h0m5.5 .5h0m1.5-.5h0m1.5 0h0m2.5 0h0m1.5 .5h0m1-1h0m.5 0h0m1.5 0h0m2.5 0h0m2 0h0m.5 1h0m.5 0h0m3-.5h0m1.5 0h0m1 0h0m.5-.5h0m0 .5h0m2.5 0h0m1-.5h0m1 0h0m1.5 1h0m.5 0h0m1 0h0m3-.5h0m-39.5 1h0m1.5 0h0m3.5 .5h0m3.5 0h0m2-.5h0m1 0h0m2 0h0m1 0h0m1.5 0h0m1-.5h0m1 0h0m1.5 1h0m0-1h0m1.5 0h0m.5 1h0m4.5 0h0m1-1h0m.5 1h0m0-.5h0m2 0h0m1 0h0m1.5-.5h0m0 .5h0m4 0h0m2 .5h0m-38.5 .5h0m6 0h0m2 0h0m3.5 0h0m1.5-.5h0m2 .5h0m.5 .5h0m1-.5h0m1-.5h0m1.5 0h0m0 1h0m0 0h0m1-.5h0m2 .5h0m1-1h0m3.5 1h0m2-.5h0m0 .5h0m1-1h0m.5 0h0m3 0h0m.5 .5h0m1-.5h0m.5 1h0m0-1h0m1.5 0h0m1.5 1h0m4-.5h0m4 0h0m-41.5 1.5h0m7-1h0m.5 .5h0m1.5-.5h0m1 .5h0m.5-.5h0m1 .5h0m1 .5h0m1-1h0m0 .5h0m1.5 .5h0m1.5 0h0m2-1h0m0 1h0m3-.5h0m1.5-.5h0m1 1h0m0 0h0m.5-.5h0m1 0h0m.5-.5h0m1 1h0m.5-1h0m0 .5h0m1-.5h0m.5 0h0m0 .5h0m8 0h0m-44 .5h0m8 1h0m6.5 0h0m.5-1h0m1 .5h0m1.5-.5h0m1 .5h0m2 .5h0m1-1h0m2 1h0m.5-.5h0m.5 0h0m.5 0h0m3.5-.5h0m.5 .5h0m2.5 .5h0m1.5-.5h0m1.5 0h0m2 0h0m1 0h0m4.5 .5h0m1.5-1h0m-39.5 1.5h0m3 .5h0m8-1h0m2 .5h0m.5-.5h0m0 1h0m2-1h0m0 .5h0m1.5-.5h0m1 .5h0m1 0h0m0-.5h0m1 1h0m5.5-1h0m1.5 1h0m.5-.5h0m.5-.5h0m.5 .5h0m0-.5h0m3.5 0h0m.5 .5h0m.5-.5h0m5.5 0h0m3.5 .5h0m-30.5 .5h0m.5 .5h0m1 .5h0m.5-.5h0m.5 0h0m1 0h0m.5 0h0m0 .5h0m2-.5h0m.5 .5h0m.5-1h0m0 0h0m1 .5h0m1 .5h0m1-.5h0m3 0h0m.5-.5h0m.5 1h0m1-1h0m1.5 .5h0m2 .5h0m0-.5h0m1 .5h0m1-.5h0m1.5 0h0m.5 0h0m0-.5h0m5.5 0h0m-40 2h0m3.5 0h0m8 0h0m2-1h0m1 1h0m1.5-.5h0m1 0h0m3.5-.5h0m1 .5h0m0-.5h0m3 .5h0m2 0h0m1-.5h0m.5 0h0m1 1h0m1.5 0h0m2.5-.5h0m2.5 0h0m2 .5h0m0-.5h0m2 0h0m-41 .5h0m10.5 0h0m2.5 .5h0m.5 .5h0m1-.5h0m.5-.5h0m1 .5h0m0 .5h0m.5 0h0m1.5-.5h0m1-.5h0m1.5 1h0m.5-1h0m.5 .5h0m2 0h0m.5-.5h0m0 .5h0m2.5 0h0m1.5 .5h0m0 0h0m.5 0h0m4 0h0m1-.5h0m1.5 .5h0m0-1h0m1 .5h0m-35 .5h0m2 .5h0m4.5 0h0m6.5 0h0m1.5 .5h0m2.5-.5h0m1 .5h0m2 0h0m1.5-1h0m.5 .5h0m1 0h0m1 0h0m5.5-.5h0m.5 .5h0m2 0h0m8 0h0m-33 .5h0m4.5 0h0m1 1h0m1-1h0m1.5 .5h0m.5-.5h0m1 0h0m4 .5h0m1 .5h0m0-1h0m1 0h0m1 0h0m0 .5h0m2-.5h0m.5 0h0m1.5 0h0m0 1h0m1.5-1h0m1.5 .5h0m2 0h0m1-.5h0m0 1h0m4 0h0m-27.5 0h0m1.5 0h0m1 .5h0m2.5-.5h0m2 0h0m.5 1h0m0-1h0m.5 0h0m.5 1h0m1 0h0m1-1h0m1 1h0m1.5-.5h0m1-.5h0m3 0h0m.5 .5h0m1 .5h0m1-.5h0m.5 0h0m0-.5h0m.5 1h0m3-.5h0m2-.5h0m-35.5 1h0m1.5 .5h0m2.5 0h0m2.5 0h0m4 0h0m3 0h0m1-.5h0m0 .5h0m1 0h0m2-.5h0m2 .5h0m4 .5h0m1.5-.5h0m1 .5h0m0 0h0m1 0h0m1 0h0m3 0h0m.5-.5h0m0-.5h0m1 .5h0m1-.5h0m2 .5h0m.5-.5h0m-25.5 2h0m2.5-1h0m1.5 .5h0m1 .5h0m1-.5h0m1 0h0m.5-.5h0m1 .5h0m.5 .5h0m2.5-1h0m1.5 1h0m0-1h0m1 0h0m.5 1h0m2.5 0h0m2-1h0m0 1h0m3-.5h0m6 0h0m2.5-.5h0m1 .5h0m-41.5 1.5h0m1.5-1h0m3 0h0m3.5 .5h0m5.5-.5h0m1 1h0m2 0h0m2-1h0m.5 .5h0m1 0h0m1-.5h0m1 .5h0m0-.5h0m1.5 1h0m1.5 0h0m1 0h0m.5 0h0m.5-1h0m1.5 1h0m2 0h0m1.5-1h0m.5 1h0m0-1h0m6.5 .5h0m-38 1h0m5.5 0h0m6-.5h0m.5 .5h0m1 .5h0m1.5-1h0m1.5 0h0m1 0h0m.5 1h0m.5-.5h0m1 0h0m2 .5h0m1 0h0m3.5 0h0m.5-.5h0m1.5 .5h0m1 0h0m1-.5h0m3 0h0m6 0h0m-34.5 1.5h0m5 0h0m5.5-1h0m1.5 0h0m1.5 .5h0m1.5 0h0m1-.5h0m1 1h0m1 0h0m0-.5h0m1 .5h0m1.5-1h0m2.5 .5h0m1 .5h0m1-.5h0m2-.5h0m1 1h0m1-.5h0m.5 0h0m4 0h0m1 0h0m-34.5 .5h0m1.5 .5h0m.5 .5h0m5.5 0h0m2-.5h0m1.5 0h0m.5-.5h0m.5 .5h0m.5-.5h0m.5 1h0m2-.5h0m1-.5h0m4.5 0h0m0 .5h0m1.5 0h0m4.5-.5h0m0 1h0m1-.5h0m3 .5h0m-23.5 0h0m.5 .5h0m3.5 .5h0m1.5 0h0m1-.5h0m2-.5h0m1.5 0h0m1.5 .5h0m1.5-.5h0m.5 .5h0m1.5 .5h0m1-1h0m2 0h0m1.5 .5h0m2 0h0m.5-.5h0m1 0h0m-22 1.5h0m2.5-.5h0m1.5 1h0m1.5-1h0m4.5 0h0m.5 .5h0m1.5 0h0m0-.5h0m1.5 .5h0m1 0h0m0 0h0m1-.5h0m.5 .5h0m1 .5h0m1.5 0h0m.5-.5h0m3.5 0h0m1.5 .5h0m7.5-.5h0m-36 1.5h0m8.5-1h0m.5 .5h0m.5 0h0m1.5 .5h0m.5-1h0m.5 .5h0m.5-.5h0m1.5 0h0m1.5 0h0m1 .5h0m1 .5h0m1.5-.5h0m7.5 0h0m1 0h0m-26.5 .5h0m1.5 0h0m2 .5h0m4-.5h0m0 0h0m1 .5h0m1 .5h0m0-1h0m.5 1h0m0-.5h0m3-.5h0m1.5 0h0m2.5 .5h0m1 0h0m1-.5h0m1.5 0h0m2 1h0m0-1h0m-21.5 1h0m0 .5h0m7-.5h0m.5 1h0m2 0h0m.5 0h0m0-1h0m2.5 0h0m.5 1h0m.5-1h0m0 0h0m1.5 1h0m1 0h0m.5-1h0m1 0h0m1 0h0m0 .5h0m4 .5h0m-19.5 0h0m4.5 .5h0m4-.5h0m.5 0h0m1 1h0m2-.5h0m2-.5h0m.5 .5h0m1.5-.5h0m4 0h0m-17.5 1.5h0m3.5-.5h0m.5 0h0m1 1h0m.5-.5h0m4.5 0h0m1.5-.5h0m0 1h0m.5-.5h0m2.5-.5h0m1 1h0m-10.5 1h0m2.5-1h0m2 1h0m1.5-.5h0m3 0h0m-12.5 1h0m3 .5h0m2-.5h0m1 0h0m0 .5h0m0-1h0m1 .5h0m2 0h0m0-.5h0m3.5 1h0m-10 .5h0m1.5 0h0m1 .5h0m2-.5h0m3-.5h0m1 1h0m.5-1h0m-8.5 1.5h0m2.5-.5h0m0 .5h0" stroke="#000" stroke-width="2.2" stroke-linecap="round" fill="none"/>
<path d="M379.5 95.5h0m-3.5 1h0m3 0h0m-7 1h0m2 .5h0m5.5 0h0m-8.5 2.5h0m6.5 .5h0m-3.5 1.5h0m3-.5h0m1.5-.5h0m-9 4h0m1 1.5h0m1.5 1h0m8 0h0m0 0h0m-3.5 3h0m2 0h0m-5 .5h0m6 0h0m.5 1.5h0m-.5 1.5h0m-6 .5h0m1 2.5h0m2.5-.5h0m2 0h0m-7 1h0m5.5 .5h0m2 0h0m-4 .5h0m4 .5h0m-1.5 0h0m-11.5 1.5h0m3.5 1h0m2 .5h0m2 0h0m3.5 0h0m0-.5h0m-12 1h0m13 0h0m.5 0h0m-15 .5h0m5.5 0h0m2 1h0m8-.5h0m-10.5 1h0m8.5-.5h0m.5 1h0m-3 .5h0m1.5 0h0m2.5 0h0m-6 1h0m4-.5h0m1.5 .5h0m1.5 0h0m.5 0h0m-15.5 1h0m9 .5h0m4.5-1h0m.5 .5h0m1 0h0m-17.5 1h0m13 0h0m2.5 0h0m2-.5h0m.5 1h0m-10.5 .5h0m4 .5h0m2 0h0m2-1h0m2 .5h0m.5 0h0m0 0h0m-20.5 .5h0m1.5 .5h0m4.5 0h0m0 0h0m11.5 0h0m2.5-.5h0m-11 1.5h0m2.5 0h0m1 0h0m7 0h0m1-.5h0m-21.5 1.5h0m16 0h0m1.5-.5h0m2.5 .5h0m1 .5h0m-20 .5h0m4.5 0h0m9 0h0m.5 0h0m2 0h0m.5 0h0m.5 0h0m2 0h0m1 0h0m0-.5h0m-23 2h0m6.5-.5h0m.5 0h0m14 0h0m2 0h0m.5 .5h0m-9.5 1h0m4.5-.5h0m1.5-.5h0m2.5 0h0m-14 2h0m9-.5h0m1.5-.5h0m.5 .5h0m.5 0h0m2.5 0h0m.5 0h0m.5 0h0m-24.5 1h0m13 .5h0m7-.5h0m1 0h0m2 0h0m-12.5 1h0m1.5 0h0m3-.5h0m5 0h0m4 .5h0m-21 .5h0m1.5 .5h0m8.5 0h0m2 0h0m2.5-.5h0m2.5 1h0m1 0h0m0-.5h0m.5 .5h0m1-.5h0m.5 0h0m1.5-.5h0m-18.5 2h0m2-.5h0m6.5 .5h0m8 0h0m.5-.5h0m.5 0h0m1-.5h0m-18 1.5h0m1 0h0m8 0h0m2.5-.5h0m1.5 .5h0m2-.5h0m1 .5h0m1.5 0h0m.5 .5h0m0-1h0m-24 1.5h0m7.5 .5h0m5-1h0m.5 0h0m4 0h0m1.5 .5h0m.5-.5h0m1 .5h0m.5 0h0m2-.5h0m.5 .5h0m1 0h0m-26 .5h0m1.5 .5h0m9.5 .5h0m4-.5h0m3.5 0h0m4 0h0m1.5 0h0m1 0h0m-18.5 .5h0m12 1h0m3-.5h0m1 .5h0m.5-1h0m.5 0h0m1 .5h0m1-.5h0m.5 1h0m-17.5 0h0m2 .5h0m.5 .5h0m12-1h0m1 0h0m.5 .5h0m1-.5h0m.5 1h0m-19 .5h0m8 0h0m4.5 0h0m2.5-.5h0m.5 1h0m1-.5h0m1 0h0m-15.5 .5h0m8 0h0m2 .5h0m1.5 0h0m2 0h0m2.5 0h0m1.5 0h0m-23.5 1h0m5.5 .5h0m9-.5h0m.5 .5h0m2-1h0m.5 0h0m.5 .5h0m3-.5h0m1 1h0m.5-.5h0m-10.5 1h0m2 0h0m3-.5h0m2 .5h0m1-.5h0m2 .5h0m1 0h0m-29 .5h0m2 .5h0m4.5-.5h0m12.5 0h0m3.5 1h0m4-.5h0m1.5 0h0m1.5 0h0m-29.5 1.5h0m2.5-1h0m13.5 .5h0m2-.5h0m3.5 1h0m.5-.5h0m2 .5h0m.5-1h0m.5 0h0m1.5 1h0m0-1h0m1.5 .5h0m1 0h0m.5 0h0m-34 1h0m6.5 .5h0m1.5-.5h0m3.5 0h0m4 0h0m3 0h0m.5 0h0m8 0h0m2-.5h0m3 .5h0m0 0h0m1.5-.5h0m0 1h0m-34.5 .5h0m17.5 .5h0m7-1h0m3.5 .5h0m2 0h0m0 0h0m2-.5h0m0 .5h0m2-.5h0m-30.5 1h0m.5 1h0m12-.5h0m11 .5h0m.5-.5h0m1.5 0h0m1 .5h0m1.5-1h0m-23 1h0m5.5 1h0m9.5 0h0m2-1h0m1.5 .5h0m1.5 0h0m1.5 .5h0m1-1h0m1.5 .5h0m.5 0h0m1 0h0m.5 .5h0m.5-1h0m-35.5 2h0m23-.5h0m3.5 .5h0m2-.5h0m1 0h0m1-.5h0m2 .5h0m1 0h0m2 .5h0m-37 .5h0m.5 .5h0m13-.5h0m3 .5h0m1.5-1h0m5.5 1h0m2 0h0m3.5-.5h0m1 0h0m1.5 0h0m1.5-.5h0m0 1h0m1.5-.5h0m.5 0h0m1 0h0m0-.5h0m.5 0h0m0 .5h0m-36.5 1h0m3.5 0h0m3.5 0h0m4.5 0h0m1.5 0h0m10-.5h0m2 1h0m2.5-1h0m1.5 .5h0m2 0h0m1-.5h0m2 .5h0m1 0h0m1.5 .5h0m-38.5 1h0m1.5 0h0m7-.5h0m2-.5h0m3 1h0m3-.5h0m6.5 0h0m6.5 .5h0m1-.5h0m2-.5h0m.5 .5h0m1 0h0m1.5-.5h0m2 .5h0m1.5-.5h0m-28 1h0m5.5 .5h0m14.5 0h0m2 0h0m1.5 0h0m1.5-.5h0m3 .5h0m0-.5h0m-36 1.5h0m2.5 0h0m24 0h0m1 0h0m2 0h0m0 0h0m1 0h0m2.5-.5h0m0 0h0m2.5 .5h0m-36.5 .5h0m2.5 1h0m3.5 0h0m1.5 0h0m1.5-.5h0m6.5 0h0m.5 .5h0m4.5 0h0m4-.5h0m6.5 .5h0m.5-.5h0m.5-.5h0m0 1h0m0-1h0m1.5 1h0m1-.5h0m1 0h0m0 .5h0m-36 0h0m2 0h0m2 0h0m5.5 .5h0m7-.5h0m2.5 .5h0m10 0h0m3 0h0m.5 0h0m.5 0h0m1.5 0h0m1-.5h0m0 1h0m1.5-.5h0m-28.5 .5h0m11 .5h0m4 0h0m1.5 0h0m4 0h0m0 0h0m1 .5h0m1-1h0m.5 1h0m.5-.5h0m1.5 0h0m4-.5h0m0 1h0m-38.5 .5h0m2-.5h0m2 0h0m2 1h0m1-.5h0m5.5 0h0m1 .5h0m9.5-.5h0m.5 .5h0m4-.5h0m5 0h0m1 0h0m1 0h0m2-.5h0m1.5 .5h0m-31 1.5h0m8.5-1h0m5 .5h0m2.5-.5h0m3 0h0m3 .5h0m.5-.5h0m.5 .5h0m2 .5h0m0-1h0m2 0h0m1 1h0m1-.5h0m1.5 0h0m.5 0h0m-41 1h0m3.5 0h0m9.5 0h0m2 0h0m10-.5h0m5.5 .5h0m1.5 0h0m.5 0h0m2 0h0m2 0h0m1.5 .5h0m.5-1h0m1.5 .5h0m1-.5h0m1 .5h0m-43.5 1.5h0m3-.5h0m15-.5h0m2.5 .5h0m8 .5h0m3.5-.5h0m1 0h0m2 0h0m3-.5h0m1 0h0m1.5 .5h0m1.5 0h0m1 .5h0m.5-.5h0m-41 1.5h0m2.5-.5h0m2.5-.5h0m22 .5h0m2-.5h0m0 1h0m3-1h0m.5 .5h0m1.5 .5h0m.5-.5h0m1-.5h0m.5 0h0m.5 0h0m.5 .5h0m1.5 0h0m.5 .5h0m.5-1h0m0 .5h0m.5 .5h0m-42 0h0m7 .5h0m3 .5h0m1.5 0h0m8-1h0m1 .5h0m2 0h0m.5 0h0m9.5 0h0m.5 0h0m3.5-.5h0m2 0h0m.5 .5h0m2 0h0m.5 .5h0m-39 .5h0m3 0h0m3 0h0m8-.5h0m3.5 .5h0m.5 .5h0m5.5-.5h0m2.5-.5h0m2 0h0m3 .5h0m1.5 0h0m0 0h0m1.5 0h0m0 .5h0m1 0h0m1-1h0m1 .5h0m.5 0h0m2 0h0m-43.5 1h0m1-.5h0m3 1h0m1-.5h0m3.5 0h0m1 .5h0m9-.5h0m5.5 .5h0m2-1h0m3 0h0m5.5 .5h0m.5-.5h0m.5 .5h0m2 0h0m1 0h0m.5 .5h0m1.5-.5h0m1.5 0h0m0 .5h0m.5-1h0m1 1h0m.5-.5h0m-41 .5h0m34.5 0h0" stroke="#1f3ff0" stroke-width="2.2" stroke-linecap="round" fill="none"/>
<path d="M364.5 70.5h0m4 10h0m6.5 2.5h0m-2 1.5h0m-7 13.5h0m-32 9h0m35.5 8.5h0m-5 4h0m-15 7h0m-4 3h0m2.5 8h0m2 10.5h0m-36.5 .5h0m10 4h0m-12 5.5h0m12.5 6h0m-15.5 2h0m16 2.5h0m-16.5 3.5h0m16 0h0m-12 .5h0" stroke="#2626b8" stroke-width="2.2" stroke-linecap="round" fill="none"/>
<path d="M390.5 98.5h0m2.5 1.5h0m-1.5 1h0m1.5 2h0m2-.5h0m-2 3.5h0m-2.5 1.5h0m4.5 5h0m0-.5h0m-1 1.5h0m-2 1.5h0m3.5 1.5h0m.5-1h0m-3.5 1.5h0m1.5 0h0m1 .5h0m-3 0h0m4 .5h0m-5 2h0m.5-.5h0m2 1h0m0 .5h0m2 .5h0m.5 0h0m-2.5 .5h0m-4 1h0m1.5 0h0m1.5 0h0m5.5 .5h0m-4 .5h0m-4.5 1h0m.5-.5h0m6 1h0m-2.5 1h0m-2.5 3h0m-1.5 1h0m2.5-1h0m2 1h0m.5-.5h0m.5 0h0m-5 1h0m2 .5h0m3.5-1h0m0 .5h0m-5.5 1h0m2 0h0m2 0h0m-4 .5h0m1 .5h0m.5 0h0m-1 .5h0m.5 .5h0m2 0h0m1 .5h0m0-1h0m-3 1h0m1 .5h0m1 0h0m-3.5 .5h0m.5 .5h0m1.5-.5h0m2 0h0m1 0h0m2 .5h0m2-.5h0m3 1h0m-12 .5h0m2-.5h0m1 0h0m1 1h0m2.5-.5h0m2 0h0m-8 .5h0m1.5 0h0m.5 1h0m3-.5h0m.5 0h0m-6.5 1h0m1 .5h0m4.5-1h0m0 .5h0m1.5 .5h0m3 0h0m.5-.5h0m-9.5 1h0m4 0h0m1.5 .5h0m4 0h0m-10.5 0h0m.5 .5h0m.5 0h0m1.5 0h0m.5-.5h0m.5 1h0m5-.5h0m6 0h0m-14 .5h0m1 .5h0m1.5 0h0m0-.5h0m1 .5h0m1 0h0m9.5 .5h0m-14 .5h0m.5 0h0m0 0h0m.5 0h0m1 0h0m1 .5h0m3-1h0m.5 0h0m7 1h0m-13.5 .5h0m1.5 0h0m5-.5h0m1 1h0m7.5-.5h0m-15.5 .5h0m1 .5h0m1 .5h0m2 0h0m1-.5h0m1 .5h0m2.5-.5h0m8 0h0m-15.5 1h0m2.5 .5h0m2.5-.5h0m1.5 0h0m1 .5h0m8-.5h0m-15.5 1.5h0m0-.5h0m2 .5h0m1.5-1h0m.5 0h0m.5 .5h0m1.5 0h0m6.5 .5h0m-13 .5h0m1 0h0m.5 .5h0m1-.5h0m.5 0h0m.5-.5h0m1 .5h0m2 0h0m0-.5h0m7.5 0h0m-13 1.5h0m2 .5h0m0-.5h0m.5 0h0m1.5 0h0m1 .5h0m0-.5h0m1 0h0m3.5 0h0m1 .5h0m-12 0h0m1 1h0m1.5-1h0m2 .5h0m1.5 0h0m.5 .5h0m1.5-1h0m8.5 .5h0m-14.5 1.5h0m0-.5h0m.5 0h0m2 0h0m3.5 0h0m2.5 .5h0m3.5-.5h0m.5 .5h0m2-.5h0m-16.5 1h0m3 0h0m2 0h0m1.5-.5h0m1 .5h0m3 0h0m5.5 0h0m-16 1h0m1.5 0h0m2.5-.5h0m2 0h0m1 .5h0m-5.5 1.5h0m1.5-1h0m.5 .5h0m.5 0h0m1.5-.5h0m0 .5h0m8 0h0m-13.5 1h0m2.5 .5h0m2.5-.5h0m1.5-.5h0m0 1h0m.5-1h0m2 1h0m3.5-1h0m-11.5 1h0m.5 1h0m1.5-.5h0m2 0h0m-4.5 .5h0m1 .5h0m2 0h0m.5 0h0m2 0h0m0-.5h0m3 .5h0m1 .5h0m1.5-.5h0m2.5 0h0m-12.5 1h0m3.5 0h0m1 0h0m1 0h0m.5 .5h0m6.5-.5h0m-14 1.5h0m.5-1h0m.5 .5h0m.5 0h0m1.5 0h0m.5 0h0m1 0h0m1 0h0m4.5 0h0m.5 .5h0m7.5-1h0m-17.5 1.5h0m1.5 0h0m1 0h0m1 0h0m2 0h0m2 0h0m1 .5h0m1.5-.5h0m8 0h0m-18 1.5h0m1 0h0m1.5-.5h0m.5 0h0m0-.5h0m1.5 .5h0m.5-.5h0m1.5 .5h0m1 .5h0m.5-.5h0m1.5 .5h0m9 0h0m-18 .5h0m.5 .5h0m.5-.5h0m2 .5h0m.5-.5h0m.5 0h0m2.5 0h0m0 .5h0m4-.5h0m7 0h0m.5 0h0m-19 1h0m1-.5h0m1.5 .5h0m2 0h0m.5 0h0m1-.5h0m1 .5h0m1 .5h0m1-.5h0m2.5-.5h0m4 .5h0m1 .5h0m-16.5 1h0m.5 0h0m1.5 0h0m.5-.5h0m2 .5h0m0-.5h0m1 .5h0m1.5-.5h0m1-.5h0m.5 .5h0m5 0h0m2-.5h0m-9.5 1.5h0m1 0h0m3-.5h0m1 .5h0m.5 0h0m-11.5 .5h0m1 .5h0m0-.5h0m2 .5h0m.5 0h0m2 0h0m1 0h0m1-.5h0m1 0h0m.5 .5h0m-9 .5h0m1 .5h0m2 0h0m.5 0h0m1 0h0m1.5-.5h0m0 .5h0m1 0h0m4 0h0m-11 .5h0m.5 .5h0m.5-.5h0m1.5 0h0m1.5 .5h0m1 0h0m1 0h0m1.5-.5h0m.5 0h0m2 .5h0m-9.5 1h0m.5 .5h0m1 0h0m1-.5h0m2 0h0m1.5 0h0m2-.5h0m1 1h0m0 0h0m-10 .5h0m1.5 0h0m3 0h0m1.5-.5h0m1 1h0m1-.5h0m-6.5 1h0m2 0h0m1 0h0m1.5 0h0m.5 0h0m4.5-.5h0m1 .5h0m2.5 .5h0m7.5 0h0m-20.5 .5h0m0-.5h0m1 1h0m1.5-.5h0m1.5-.5h0m1.5 1h0m4-.5h0m.5 0h0m2-.5h0m1 1h0m3 0h0m3.5-1h0m-21 1h0m1.5 .5h0m0 0h0m.5 0h0m2 0h0m.5 0h0m1-.5h0m2.5 0h0m.5 .5h0m1.5-.5h0m.5 1h0m3 0h0m6-.5h0m0 0h0m-19 .5h0m5 0h0m1 0h0m1 0h0m2 0h0m2.5 0h0m4 0h0" stroke="#ff2a0c" stroke-width="2.2" stroke-linecap="round" fill="none"/>
<path d="M424.5 73h0m-29.5 13h0m6 1h0m-1 5h0m-5 6h0m4 0h0m28 8h0m-35.5 3.5h0m7.5 23h0m4 3h0m5.5 30.5h0m33.5 .5h0m-28 1h0m10.5 0h0m11 3h0m8 0h0m3.5 0h0" stroke="#d82c1c" stroke-width="2.2" stroke-linecap="round" fill="none"/>
<line x1="124.4" y1="47.8" x2="148.9" y2="42.8" stroke="#222" stroke-width="0.9"/>
<line x1="119.6" y1="69.4" x2="148.5" y2="69.4" stroke="#222" stroke-width="0.9"/>
<line x1="95.6" y1="84.6" x2="123.1" y2="78.3" stroke="#222" stroke-width="0.9"/>
<line x1="108.4" y1="102.5" x2="146.2" y2="127.9" stroke="#222" stroke-width="0.9"/>
<line x1="142.1" y1="106.6" x2="162.2" y2="127.9" stroke="#222" stroke-width="0.9"/>
<line x1="105.3" y1="117.2" x2="137.3" y2="127.0" stroke="#222" stroke-width="0.9"/>
<line x1="100.5" y1="131.4" x2="138.2" y2="129.7" stroke="#222" stroke-width="0.9"/>
<line x1="132.0" y1="141.6" x2="158.7" y2="137.7" stroke="#222" stroke-width="0.9"/>
<line x1="106.6" y1="160.8" x2="152.4" y2="140.3" stroke="#222" stroke-width="0.9"/>
<line x1="208.0" y1="59.4" x2="178.7" y2="142.9" stroke="#222" stroke-width="0.9"/>
<line x1="222.6" y1="78.3" x2="203.3" y2="100.9" stroke="#222" stroke-width="0.9"/>
<line x1="227.2" y1="91.0" x2="207.6" y2="119.8" stroke="#222" stroke-width="0.9"/>
<line x1="229.4" y1="108.4" x2="202.1" y2="128.3" stroke="#222" stroke-width="0.9"/>
<line x1="238.6" y1="117.6" x2="214.4" y2="129.5" stroke="#222" stroke-width="0.9"/>
<line x1="230.6" y1="132.2" x2="198.2" y2="142.0" stroke="#222" stroke-width="0.9"/>
<line x1="212.7" y1="144.5" x2="204.5" y2="145.9" stroke="#222" stroke-width="0.9"/>
<line x1="251.9" y1="146.2" x2="201.6" y2="155.6" stroke="#222" stroke-width="0.9"/>
<line x1="229.7" y1="158.1" x2="187.1" y2="158.1" stroke="#222" stroke-width="0.9"/>
<line x1="211.0" y1="167.9" x2="194.0" y2="164.0" stroke="#222" stroke-width="0.9"/>
<line x1="236.5" y1="194.6" x2="199.1" y2="169.1" stroke="#222" stroke-width="0.9"/>
<g stroke="#111" stroke-width="0.22">
<text x="101.4" y="58.5" font-size="12.3" textLength="21.8" lengthAdjust="spacingAndGlyphs">Dlx1</text>
<text x="92.1" y="73.6" font-size="12.3" textLength="26.1" lengthAdjust="spacingAndGlyphs">Fosl2</text>
<text x="74.7" y="90.5" font-size="12.3" textLength="19.1" lengthAdjust="spacingAndGlyphs">Sp8</text>
<text x="91.2" y="104.5" font-size="12.3" textLength="16.3" lengthAdjust="spacingAndGlyphs">Ret</text>
<text x="116.8" y="104.5" font-size="12.3" textLength="34.3" lengthAdjust="spacingAndGlyphs">Kdm6b</text>
<text x="74.7" y="119.6" font-size="12.3" textLength="28.4" lengthAdjust="spacingAndGlyphs">Calb2</text>
<text x="87.2" y="135.6" font-size="12.3" textLength="11.4" lengthAdjust="spacingAndGlyphs">Th</text>
<text x="110.3" y="147.2" font-size="12.3" textLength="18.5" lengthAdjust="spacingAndGlyphs">Klf4</text>
<text x="74.7" y="166.7" font-size="12.3" textLength="30.1" lengthAdjust="spacingAndGlyphs">Nr4a3</text>
<text x="200.0" y="58.4" font-size="12.3" textLength="34.4" lengthAdjust="spacingAndGlyphs">Cx3cr1</text>
<text x="215.7" y="75.4" font-size="12.3" textLength="25.5" lengthAdjust="spacingAndGlyphs">Cd22</text>
<text x="228.0" y="90.8" font-size="12.3" textLength="17.1" lengthAdjust="spacingAndGlyphs">Irf7</text>
<text x="225.6" y="106.8" font-size="12.3" textLength="33.8" lengthAdjust="spacingAndGlyphs">Treml2</text>
<text x="240.9" y="119.6" font-size="12.3" textLength="32.7" lengthAdjust="spacingAndGlyphs">Cxcl10</text>
<text x="233.6" y="134.0" font-size="12.3" textLength="21.2" lengthAdjust="spacingAndGlyphs">Bst2</text>
<text x="213.2" y="148.5" font-size="12.3" textLength="22.0" lengthAdjust="spacingAndGlyphs">Ifi44</text>
<text x="252.8" y="149.4" font-size="12.3" textLength="21.1" lengthAdjust="spacingAndGlyphs">Ccl6</text>
<text x="231.0" y="160.4" font-size="12.3" textLength="34.1" lengthAdjust="spacingAndGlyphs">Tyrobp</text>
<text x="213.2" y="173.6" font-size="12.3" textLength="30.6" lengthAdjust="spacingAndGlyphs">Trem2</text>
<text x="235.3" y="204.3" font-size="12.3" textLength="33.2" lengthAdjust="spacingAndGlyphs">Clec7a</text>
</g>
<line x1="344.5" y1="63.4" x2="363.2" y2="69.7" stroke="#222" stroke-width="0.9"/>
<line x1="324.4" y1="95.2" x2="373.0" y2="130.0" stroke="#222" stroke-width="0.9"/>
<line x1="314.2" y1="117.3" x2="364.4" y2="142.8" stroke="#222" stroke-width="0.9"/>
<line x1="307.4" y1="136.0" x2="350.0" y2="161.6" stroke="#222" stroke-width="0.9"/>
<line x1="344.8" y1="143.7" x2="361.9" y2="165.0" stroke="#222" stroke-width="0.9"/>
<line x1="312.5" y1="153.9" x2="350.0" y2="163.6" stroke="#222" stroke-width="0.9"/>
<line x1="300.2" y1="166.7" x2="342.3" y2="166.7" stroke="#7a7a7a" stroke-width="1.8"/>
<line x1="326.6" y1="194.5" x2="353.6" y2="185.4" stroke="#222" stroke-width="0.9"/>
<line x1="438.8" y1="58.7" x2="425.7" y2="72.0" stroke="#222" stroke-width="0.9"/>
<line x1="435.4" y1="87.6" x2="409.0" y2="130.9" stroke="#222" stroke-width="0.9"/>
<line x1="449.0" y1="108.4" x2="414.1" y2="136.8" stroke="#222" stroke-width="0.9"/>
<line x1="449.8" y1="124.1" x2="423.4" y2="141.1" stroke="#222" stroke-width="0.9"/>
<line x1="432.0" y1="144.5" x2="403.9" y2="157.3" stroke="#222" stroke-width="0.9"/>
<line x1="464.3" y1="142.0" x2="426.0" y2="154.4" stroke="#222" stroke-width="0.9"/>
<line x1="454.1" y1="153.0" x2="405.6" y2="161.6" stroke="#222" stroke-width="0.9"/>
<line x1="454.1" y1="168.4" x2="443.9" y2="166.7" stroke="#222" stroke-width="0.9"/>
<line x1="444.3" y1="189.4" x2="425.2" y2="173.9" stroke="#222" stroke-width="0.9"/>
<line x1="435.0" y1="209.1" x2="393.5" y2="169.7" stroke="#222" stroke-width="0.9"/>
<g stroke="#111" stroke-width="0.22">
<text x="330.0" y="61.8" font-size="12.3" textLength="19.5" lengthAdjust="spacingAndGlyphs">Klf4</text>
<text x="299.3" y="93.0" font-size="12.3" textLength="35.4" lengthAdjust="spacingAndGlyphs">Kdm6b</text>
<text x="295.0" y="115.3" font-size="12.3" textLength="26.1" lengthAdjust="spacingAndGlyphs">Fosl2</text>
<text x="292.5" y="134.0" font-size="12.3" textLength="19.0" lengthAdjust="spacingAndGlyphs">Sp8</text>
<text x="322.0" y="145.1" font-size="12.3" textLength="22.4" lengthAdjust="spacingAndGlyphs">Dlk1</text>
<text x="284.5" y="152.3" font-size="12.3" textLength="27.5" lengthAdjust="spacingAndGlyphs">Calb2</text>
<text x="286.9" y="169.0" font-size="12.3" textLength="11.5" lengthAdjust="spacingAndGlyphs">Th</text>
<text x="293.8" y="200.9" font-size="12.3" textLength="32.2" lengthAdjust="spacingAndGlyphs">Nr4a3</text>
<text x="432.1" y="57.2" font-size="12.3" textLength="17.3" lengthAdjust="spacingAndGlyphs">Irf7</text>
<text x="431.6" y="84.5" font-size="12.3" textLength="34.8" lengthAdjust="spacingAndGlyphs">Tyrobp</text>
<text x="446.9" y="107.3" font-size="12.3" textLength="22.1" lengthAdjust="spacingAndGlyphs">Ifi44</text>
<text x="446.9" y="122.6" font-size="12.3" textLength="34.0" lengthAdjust="spacingAndGlyphs">Treml2</text>
<text x="432.8" y="144.3" font-size="12.3" textLength="21.2" lengthAdjust="spacingAndGlyphs">Bst2</text>
<text x="464.8" y="144.3" font-size="12.3" textLength="21.2" lengthAdjust="spacingAndGlyphs">Ccl3</text>
<text x="454.6" y="157.0" font-size="12.3" textLength="30.6" lengthAdjust="spacingAndGlyphs">Trem2</text>
<text x="454.6" y="171.5" font-size="12.3" textLength="34.0" lengthAdjust="spacingAndGlyphs">Clec7a</text>
<text x="439.4" y="199.4" font-size="12.3" textLength="20.9" lengthAdjust="spacingAndGlyphs">Ccl6</text>
<text x="435.2" y="216.6" font-size="12.3" textLength="34.4" lengthAdjust="spacingAndGlyphs">Cx3cr1</text>
</g>
<text x="71.3" y="43.3" font-size="13" font-weight="bold" textLength="62.7" lengthAdjust="spacingAndGlyphs" font-family="'Liberation Sans', Arial, sans-serif" fill="#1d3bd8">632 genes</text>
<text x="211.0" y="43.0" font-size="13" font-weight="bold" textLength="62.4" lengthAdjust="spacingAndGlyphs" font-family="'Liberation Sans', Arial, sans-serif" fill="#e5301c">597 genes</text>
<text x="284.6" y="43.3" font-size="13" font-weight="bold" textLength="62.8" lengthAdjust="spacingAndGlyphs" font-family="'Liberation Sans', Arial, sans-serif" fill="#1d3bd8">654 genes</text>
<text x="425.7" y="43.3" font-size="13" font-weight="bold" textLength="62.6" lengthAdjust="spacingAndGlyphs" font-family="'Liberation Sans', Arial, sans-serif" fill="#e5301c">631 genes</text>
<text x="274.9" y="181.5" font-size="7.7" text-anchor="end" textLength="39.9" lengthAdjust="spacingAndGlyphs" fill="#333">P value=0.05</text>
<text x="488.3" y="181.5" font-size="7.7" text-anchor="end" textLength="39.9" lengthAdjust="spacingAndGlyphs" fill="#333">P value=0.05</text>
<line x1="62.5" y1="229.0" x2="67.3" y2="229.0" stroke="#222" stroke-width="1.1"/>
<text x="61.0" y="233.2" font-size="12" text-anchor="end" textLength="6.1" lengthAdjust="spacingAndGlyphs" stroke="#111" stroke-width="0.15">0</text>
<line x1="62.5" y1="186.5" x2="67.3" y2="186.5" stroke="#222" stroke-width="1.1"/>
<text x="61.0" y="190.7" font-size="12" text-anchor="end" textLength="6.1" lengthAdjust="spacingAndGlyphs" stroke="#111" stroke-width="0.15">1</text>
<line x1="62.5" y1="144.0" x2="67.3" y2="144.0" stroke="#222" stroke-width="1.1"/>
<text x="61.0" y="148.2" font-size="12" text-anchor="end" textLength="6.1" lengthAdjust="spacingAndGlyphs" stroke="#111" stroke-width="0.15">2</text>
<line x1="62.5" y1="101.5" x2="67.3" y2="101.5" stroke="#222" stroke-width="1.1"/>
<text x="61.0" y="105.7" font-size="12" text-anchor="end" textLength="6.1" lengthAdjust="spacingAndGlyphs" stroke="#111" stroke-width="0.15">3</text>
<line x1="62.5" y1="59.0" x2="67.3" y2="59.0" stroke="#222" stroke-width="1.1"/>
<text x="61.0" y="63.2" font-size="12" text-anchor="end" textLength="6.1" lengthAdjust="spacingAndGlyphs" stroke="#111" stroke-width="0.15">4</text>
<text x="0.0" y="0.0" font-size="15.5" text-anchor="middle" textLength="97.5" lengthAdjust="spacingAndGlyphs" stroke="#111" stroke-width="0.15" transform="translate(48.3,134) rotate(-90)">-log10 (P value)</text>
<text x="279.4" y="264.8" font-size="15.5" text-anchor="middle" textLength="105.8" lengthAdjust="spacingAndGlyphs" stroke="#111" stroke-width="0.15">log2 Fold change</text>
<text x="6.9" y="288.8" font-size="19" font-weight="bold" textLength="10.7" lengthAdjust="spacingAndGlyphs">B</text>
<rect x="214.3" y="312.6" width="57.0" height="13.2" fill="rgb(255,40,5)"/>
<rect x="214.3" y="325.4" width="57.0" height="26.0" fill="rgb(250,32,30)"/>
<rect x="214.3" y="351.0" width="57.0" height="26.0" fill="rgb(255,72,72)"/>
<rect x="214.3" y="376.6" width="57.0" height="64.3" fill="rgb(255,166,166)"/>
<rect x="214.3" y="440.5" width="57.0" height="26.0" fill="rgb(255,206,206)"/>
<rect x="214.3" y="466.1" width="57.0" height="26.0" fill="rgb(255,234,232)"/>
<rect x="214.3" y="491.7" width="57.0" height="26.0" fill="rgb(134,134,246)"/>
<rect x="214.3" y="517.2" width="57.0" height="38.8" fill="rgb(102,102,242)"/>
<rect x="214.3" y="555.6" width="57.0" height="38.8" fill="rgb(64,64,245)"/>
<rect x="214.3" y="594.0" width="57.0" height="13.2" fill="rgb(36,36,245)"/>
<rect x="214.3" y="606.8" width="57.0" height="12.8" fill="rgb(12,48,245)"/>
<rect x="214.8" y="313.1" width="56.0" height="306.0" fill="none" stroke="#000" stroke-opacity="0.13" stroke-width="1"/>
<g transform="translate(204.4,0) scale(1.105,1)" stroke="#111" stroke-width="0.1">
<text x="0.0" y="323.8" font-size="12.2" text-anchor="end" textLength="126.5" lengthAdjust="spacingAndGlyphs">Immune response of cells</text>
<text x="0.0" y="336.6" font-size="12.2" text-anchor="end" textLength="101.4" lengthAdjust="spacingAndGlyphs">Phagocytosis of cells</text>
<text x="0.0" y="349.4" font-size="12.2" text-anchor="end" textLength="139.9" lengthAdjust="spacingAndGlyphs">Differentiation of leukocytes</text>
<text x="0.0" y="362.2" font-size="12.2" text-anchor="end" textLength="130.4" lengthAdjust="spacingAndGlyphs">Migration of macrophages</text>
<text x="0.0" y="375.0" font-size="12.2" text-anchor="end" textLength="97.7" lengthAdjust="spacingAndGlyphs">Cerebral dysgenesis</text>
<text x="0.0" y="387.8" font-size="12.2" text-anchor="end" textLength="182.2" lengthAdjust="spacingAndGlyphs">Activation of antigen presenting cells</text>
<text x="0.0" y="400.5" font-size="12.2" text-anchor="end" textLength="156.8" lengthAdjust="spacingAndGlyphs">Cell movement of macrophages</text>
<text x="0.0" y="413.3" font-size="12.2" text-anchor="end" textLength="121.7" lengthAdjust="spacingAndGlyphs">Activation of phagocytes</text>
<text x="0.0" y="426.1" font-size="12.2" text-anchor="end" textLength="115.0" lengthAdjust="spacingAndGlyphs">Inflammatory response</text>
<text x="0.0" y="438.9" font-size="12.2" text-anchor="end" textLength="49.6" lengthAdjust="spacingAndGlyphs">Cell death</text>
<text x="0.0" y="451.7" font-size="12.2" text-anchor="end" textLength="131.8" lengthAdjust="spacingAndGlyphs">Activation of macrophages</text>
<text x="0.0" y="464.5" font-size="12.2" text-anchor="end" textLength="87.4" lengthAdjust="spacingAndGlyphs">Organismal death</text>
<text x="0.0" y="477.3" font-size="12.2" text-anchor="end" textLength="49.0" lengthAdjust="spacingAndGlyphs">Apoptosis</text>
<text x="0.0" y="490.1" font-size="12.2" text-anchor="end" textLength="77.3" lengthAdjust="spacingAndGlyphs">Loss of neurons</text>
<text x="0.0" y="502.9" font-size="12.2" text-anchor="end" textLength="170.8" lengthAdjust="spacingAndGlyphs">Long-term potentiation of synapse</text>
<text x="0.0" y="515.7" font-size="12.2" text-anchor="end" textLength="77.8" lengthAdjust="spacingAndGlyphs">Spatial memory</text>
<text x="0.0" y="528.4" font-size="12.2" text-anchor="end" textLength="106.2" lengthAdjust="spacingAndGlyphs">Cell cycle progression</text>
<text x="0.0" y="541.2" font-size="12.2" text-anchor="end" textLength="64.4" lengthAdjust="spacingAndGlyphs">Transcription</text>
<text x="0.0" y="554.0" font-size="12.2" text-anchor="end" textLength="99.4" lengthAdjust="spacingAndGlyphs">Quantity of neurons</text>
<text x="0.0" y="566.8" font-size="12.2" text-anchor="end" textLength="159.8" lengthAdjust="spacingAndGlyphs">Degeneration of nervous system</text>
<text x="0.0" y="579.6" font-size="12.2" text-anchor="end" textLength="42.7" lengthAdjust="spacingAndGlyphs">Learning</text>
<text x="0.0" y="592.4" font-size="12.2" text-anchor="end" textLength="47.5" lengthAdjust="spacingAndGlyphs">Cognition</text>
<text x="0.0" y="605.2" font-size="12.2" text-anchor="end" textLength="42.5" lengthAdjust="spacingAndGlyphs">Memory</text>
<text x="0.0" y="618.0" font-size="12.2" text-anchor="end" textLength="123.4" lengthAdjust="spacingAndGlyphs">Degeneration of neurons</text>
</g>
<g transform="translate(277.6,0) scale(1.1,1)" stroke="#111" stroke-width="0.1">
<text x="0.0" y="323.8" font-size="12.1" textLength="43.2" lengthAdjust="spacingAndGlyphs">2.43E-07</text>
<text x="0.0" y="336.6" font-size="12.1" textLength="43.2" lengthAdjust="spacingAndGlyphs">1.12E-05</text>
<text x="0.0" y="349.4" font-size="12.1" textLength="43.2" lengthAdjust="spacingAndGlyphs">4.65E-04</text>
<text x="0.0" y="362.2" font-size="12.1" textLength="43.2" lengthAdjust="spacingAndGlyphs">5.79E-03</text>
<text x="0.0" y="375.0" font-size="12.1" textLength="43.2" lengthAdjust="spacingAndGlyphs">3.00E-05</text>
<text x="0.0" y="387.8" font-size="12.1" textLength="43.2" lengthAdjust="spacingAndGlyphs">2.52E-03</text>
<text x="0.0" y="400.5" font-size="12.1" textLength="43.2" lengthAdjust="spacingAndGlyphs">3.23E-03</text>
<text x="0.0" y="413.3" font-size="12.1" textLength="43.2" lengthAdjust="spacingAndGlyphs">6.85E-04</text>
<text x="0.0" y="426.1" font-size="12.1" textLength="43.2" lengthAdjust="spacingAndGlyphs">2.23E-03</text>
<text x="0.0" y="438.9" font-size="12.1" textLength="43.2" lengthAdjust="spacingAndGlyphs">2.03E-07</text>
<text x="0.0" y="451.7" font-size="12.1" textLength="43.2" lengthAdjust="spacingAndGlyphs">1.19E-03</text>
<text x="0.0" y="464.5" font-size="12.1" textLength="43.2" lengthAdjust="spacingAndGlyphs">1.23E-05</text>
<text x="0.0" y="477.3" font-size="12.1" textLength="43.2" lengthAdjust="spacingAndGlyphs">6.68E-08</text>
<text x="0.0" y="490.1" font-size="12.1" textLength="43.2" lengthAdjust="spacingAndGlyphs">2.47E-03</text>
<text x="0.0" y="502.9" font-size="12.1" textLength="43.2" lengthAdjust="spacingAndGlyphs">3.03E-04</text>
<text x="0.0" y="515.7" font-size="12.1" textLength="43.2" lengthAdjust="spacingAndGlyphs">1.83E-03</text>
<text x="0.0" y="528.4" font-size="12.1" textLength="43.2" lengthAdjust="spacingAndGlyphs">4.45E-04</text>
<text x="0.0" y="541.2" font-size="12.1" textLength="43.2" lengthAdjust="spacingAndGlyphs">5.01E-04</text>
<text x="0.0" y="554.0" font-size="12.1" textLength="43.2" lengthAdjust="spacingAndGlyphs">2.19E-03</text>
<text x="0.0" y="566.8" font-size="12.1" textLength="43.2" lengthAdjust="spacingAndGlyphs">5.97E-03</text>
<text x="0.0" y="579.6" font-size="12.1" textLength="43.2" lengthAdjust="spacingAndGlyphs">2.18E-04</text>
<text x="0.0" y="592.4" font-size="12.1" textLength="43.2" lengthAdjust="spacingAndGlyphs">1.50E-04</text>
<text x="0.0" y="605.2" font-size="12.1" textLength="43.2" lengthAdjust="spacingAndGlyphs">1.54E-04</text>
<text x="0.0" y="618.0" font-size="12.1" textLength="43.2" lengthAdjust="spacingAndGlyphs">6.83E-03</text>
</g>
<g transform="translate(219.3,0) scale(1.155,1)">
<text x="0.0" y="306.9" font-size="14.3" font-weight="bold" textLength="41.5" lengthAdjust="spacingAndGlyphs">z-score</text>
</g>
<g transform="translate(275.7,0) scale(1.155,1)">
<text x="0.0" y="306.9" font-size="14.3" font-weight="bold" textLength="42.8" lengthAdjust="spacingAndGlyphs">P value</text>
</g>
<rect x="214.3" y="626.6" width="3.7" height="15.1" fill="rgb(34, 52, 241)"/>
<rect x="217.7" y="626.6" width="3.7" height="15.1" fill="rgb(61, 77, 242)"/>
<rect x="221.0" y="626.6" width="3.7" height="15.1" fill="rgb(88, 101, 244)"/>
<rect x="224.4" y="626.6" width="3.7" height="15.1" fill="rgb(115, 126, 245)"/>
<rect x="227.8" y="626.6" width="3.7" height="15.1" fill="rgb(142, 150, 246)"/>
<rect x="231.1" y="626.6" width="3.7" height="15.1" fill="rgb(169, 175, 248)"/>
<rect x="234.5" y="626.6" width="3.7" height="15.1" fill="rgb(196, 199, 249)"/>
<rect x="237.9" y="626.6" width="3.7" height="15.1" fill="rgb(223, 224, 251)"/>
<rect x="241.2" y="626.6" width="3.7" height="15.1" fill="rgb(250, 248, 252)"/>
<rect x="244.6" y="626.6" width="3.7" height="15.1" fill="rgb(251, 222, 225)"/>
<rect x="247.9" y="626.6" width="3.7" height="15.1" fill="rgb(251, 196, 197)"/>
<rect x="251.3" y="626.6" width="3.7" height="15.1" fill="rgb(252, 169, 170)"/>
<rect x="254.7" y="626.6" width="3.7" height="15.1" fill="rgb(252, 143, 143)"/>
<rect x="258.0" y="626.6" width="3.7" height="15.1" fill="rgb(253, 117, 116)"/>
<rect x="261.4" y="626.6" width="3.7" height="15.1" fill="rgb(254, 91, 88)"/>
<rect x="264.8" y="626.6" width="3.7" height="15.1" fill="rgb(254, 64, 61)"/>
<rect x="268.1" y="626.6" width="3.7" height="15.1" fill="rgb(255, 38, 34)"/>
<rect x="214.3" y="626.6" width="57.2" height="15.1" fill="none" stroke="#8a8a8a" stroke-width="0.7"/>
<line x1="221.4" y1="641.7" x2="221.4" y2="643.5" stroke="#777" stroke-width="0.8"/>
<line x1="232.0" y1="641.7" x2="232.0" y2="643.5" stroke="#777" stroke-width="0.8"/>
<line x1="242.8" y1="641.7" x2="242.8" y2="643.5" stroke="#777" stroke-width="0.8"/>
<line x1="253.3" y1="641.7" x2="253.3" y2="643.5" stroke="#777" stroke-width="0.8"/>
<line x1="263.9" y1="641.7" x2="263.9" y2="643.5" stroke="#777" stroke-width="0.8"/>
<g transform="translate(0,0)">
<text x="220.8" y="652.8" font-size="9.4" text-anchor="middle" textLength="7.6" lengthAdjust="spacingAndGlyphs" stroke="#111" stroke-width="0.1" transform="translate(220.8,0) scale(1.1,1) translate(-220.8,0)">-2</text>
<text x="231.4" y="652.8" font-size="9.4" text-anchor="middle" textLength="7.6" lengthAdjust="spacingAndGlyphs" stroke="#111" stroke-width="0.1" transform="translate(231.4,0) scale(1.1,1) translate(-231.4,0)">-1</text>
<text x="242.8" y="652.8" font-size="9.4" text-anchor="middle" textLength="4.8" lengthAdjust="spacingAndGlyphs" stroke="#111" stroke-width="0.1" transform="translate(242.8,0) scale(1.1,1) translate(-242.8,0)">0</text>
<text x="253.3" y="652.8" font-size="9.4" text-anchor="middle" textLength="4.8" lengthAdjust="spacingAndGlyphs" stroke="#111" stroke-width="0.1" transform="translate(253.3,0) scale(1.1,1) translate(-253.3,0)">1</text>
<text x="263.9" y="652.8" font-size="9.4" text-anchor="middle" textLength="4.8" lengthAdjust="spacingAndGlyphs" stroke="#111" stroke-width="0.1" transform="translate(263.9,0) scale(1.1,1) translate(-263.9,0)">2</text>
</g>
<line x1="397.5" y1="398.1" x2="397.5" y2="396.7" stroke="#111" stroke-width="1.4"/>
<line x1="395.2" y1="397.3" x2="399.8" y2="397.3" stroke="#111" stroke-width="1.6"/>
<line x1="408.0" y1="385.1" x2="408.0" y2="380.8" stroke="#111" stroke-width="1.4"/>
<line x1="405.7" y1="381.4" x2="410.3" y2="381.4" stroke="#111" stroke-width="1.6"/>
<rect x="394.1" y="398.8" width="6.7" height="26.0" fill="#fff" stroke="#000" stroke-width="1.5"/>
<rect x="403.8" y="385.1" width="8.4" height="39.7" fill="#000"/>
<text x="408.0" y="380.6" font-size="13.5" text-anchor="middle" font-weight="bold" font-family="'Liberation Sans', Arial, sans-serif">*</text>
<line x1="425.4" y1="397.8" x2="425.4" y2="396.2" stroke="#111" stroke-width="1.4"/>
<line x1="423.1" y1="396.8" x2="427.7" y2="396.8" stroke="#111" stroke-width="1.6"/>
<line x1="435.9" y1="386.1" x2="435.9" y2="382.7" stroke="#111" stroke-width="1.4"/>
<line x1="433.6" y1="383.3" x2="438.2" y2="383.3" stroke="#111" stroke-width="1.6"/>
<rect x="422.0" y="398.5" width="6.7" height="26.3" fill="#fff" stroke="#000" stroke-width="1.5"/>
<rect x="431.7" y="386.1" width="8.4" height="38.7" fill="#000"/>
<text x="435.9" y="382.5" font-size="13.5" text-anchor="middle" font-weight="bold" font-family="'Liberation Sans', Arial, sans-serif">*</text>
<line x1="453.2" y1="397.3" x2="453.2" y2="391.7" stroke="#111" stroke-width="1.4"/>
<line x1="450.9" y1="392.3" x2="455.6" y2="392.3" stroke="#111" stroke-width="1.6"/>
<line x1="463.8" y1="347.5" x2="463.8" y2="330.0" stroke="#111" stroke-width="1.4"/>
<line x1="461.4" y1="330.6" x2="466.1" y2="330.6" stroke="#111" stroke-width="1.6"/>
<rect x="449.9" y="398.0" width="6.7" height="26.8" fill="#fff" stroke="#000" stroke-width="1.5"/>
<rect x="459.6" y="347.5" width="8.4" height="77.3" fill="#000"/>
<text x="463.8" y="329.8" font-size="13.5" text-anchor="middle" font-weight="bold" font-family="'Liberation Sans', Arial, sans-serif">*</text>
<line x1="481.1" y1="397.3" x2="481.1" y2="390.6" stroke="#111" stroke-width="1.4"/>
<line x1="478.8" y1="391.2" x2="483.4" y2="391.2" stroke="#111" stroke-width="1.6"/>
<line x1="491.6" y1="346.7" x2="491.6" y2="330.0" stroke="#111" stroke-width="1.4"/>
<line x1="489.3" y1="330.6" x2="493.9" y2="330.6" stroke="#111" stroke-width="1.6"/>
<rect x="477.8" y="398.0" width="6.7" height="26.8" fill="#fff" stroke="#000" stroke-width="1.5"/>
<rect x="487.4" y="346.7" width="8.4" height="78.1" fill="#000"/>
<text x="491.6" y="329.8" font-size="13.5" text-anchor="middle" font-weight="bold" font-family="'Liberation Sans', Arial, sans-serif">*</text>
<line x1="509.0" y1="398.1" x2="509.0" y2="397.5" stroke="#111" stroke-width="1.4"/>
<line x1="506.7" y1="398.1" x2="511.3" y2="398.1" stroke="#111" stroke-width="1.6"/>
<line x1="519.5" y1="391.7" x2="519.5" y2="391.2" stroke="#111" stroke-width="1.4"/>
<line x1="517.2" y1="391.8" x2="521.8" y2="391.8" stroke="#111" stroke-width="1.6"/>
<rect x="505.7" y="398.8" width="6.7" height="26.0" fill="#fff" stroke="#000" stroke-width="1.5"/>
<rect x="515.3" y="391.7" width="8.4" height="33.1" fill="#000"/>
<text x="519.5" y="391.0" font-size="13.5" text-anchor="middle" font-weight="bold" font-family="'Liberation Sans', Arial, sans-serif">**</text>
<line x1="536.9" y1="396.7" x2="536.9" y2="389.8" stroke="#111" stroke-width="1.4"/>
<line x1="534.6" y1="390.4" x2="539.2" y2="390.4" stroke="#111" stroke-width="1.6"/>
<line x1="547.4" y1="343.0" x2="547.4" y2="321.8" stroke="#111" stroke-width="1.4"/>
<line x1="545.1" y1="322.4" x2="549.7" y2="322.4" stroke="#111" stroke-width="1.6"/>
<rect x="533.5" y="397.5" width="6.7" height="27.3" fill="#fff" stroke="#000" stroke-width="1.5"/>
<rect x="543.2" y="343.0" width="8.4" height="81.8" fill="#000"/>
<text x="547.4" y="321.6" font-size="13.5" text-anchor="middle" font-weight="bold" font-family="'Liberation Sans', Arial, sans-serif">*</text>
<line x1="564.8" y1="398.1" x2="564.8" y2="395.9" stroke="#111" stroke-width="1.4"/>
<line x1="562.5" y1="396.5" x2="567.0" y2="396.5" stroke="#111" stroke-width="1.6"/>
<line x1="575.2" y1="375.0" x2="575.2" y2="367.9" stroke="#111" stroke-width="1.4"/>
<line x1="573.0" y1="368.5" x2="577.5" y2="368.5" stroke="#111" stroke-width="1.6"/>
<rect x="561.4" y="398.8" width="6.7" height="26.0" fill="#fff" stroke="#000" stroke-width="1.5"/>
<rect x="571.1" y="375.0" width="8.4" height="49.8" fill="#000"/>
<text x="575.2" y="367.7" font-size="13.5" text-anchor="middle" font-weight="bold" font-family="'Liberation Sans', Arial, sans-serif">**</text>
<line x1="592.6" y1="398.1" x2="592.6" y2="394.6" stroke="#111" stroke-width="1.4"/>
<line x1="590.3" y1="395.2" x2="594.9" y2="395.2" stroke="#111" stroke-width="1.6"/>
<line x1="603.1" y1="365.2" x2="603.1" y2="357.5" stroke="#111" stroke-width="1.4"/>
<line x1="600.8" y1="358.1" x2="605.4" y2="358.1" stroke="#111" stroke-width="1.6"/>
<rect x="589.3" y="398.8" width="6.7" height="26.0" fill="#fff" stroke="#000" stroke-width="1.5"/>
<rect x="598.9" y="365.2" width="8.4" height="59.6" fill="#000"/>
<text x="603.1" y="357.3" font-size="13.5" text-anchor="middle" font-weight="bold" font-family="'Liberation Sans', Arial, sans-serif">**</text>
<line x1="620.5" y1="397.5" x2="620.5" y2="395.9" stroke="#111" stroke-width="1.4"/>
<line x1="618.2" y1="396.5" x2="622.8" y2="396.5" stroke="#111" stroke-width="1.6"/>
<line x1="631.0" y1="376.6" x2="631.0" y2="371.0" stroke="#111" stroke-width="1.4"/>
<line x1="628.7" y1="371.6" x2="633.3" y2="371.6" stroke="#111" stroke-width="1.6"/>
<rect x="617.2" y="398.3" width="6.7" height="26.5" fill="#fff" stroke="#000" stroke-width="1.5"/>
<rect x="626.8" y="376.6" width="8.4" height="48.2" fill="#000"/>
<text x="631.0" y="370.8" font-size="13.5" text-anchor="middle" font-weight="bold" font-family="'Liberation Sans', Arial, sans-serif">**</text>
<line x1="388.6" y1="425.8" x2="388.6" y2="291.8" stroke="#000" stroke-width="1.9"/>
<line x1="387.7" y1="424.8" x2="640.0" y2="424.8" stroke="#000" stroke-width="1.9"/>
<line x1="384.4" y1="424.8" x2="388.6" y2="424.8" stroke="#000" stroke-width="1.5"/>
<text x="384.0" y="428.4" font-size="10" text-anchor="end" font-weight="bold" font-family="'Liberation Sans', Arial, sans-serif">0</text>
<line x1="384.4" y1="398.3" x2="388.6" y2="398.3" stroke="#000" stroke-width="1.5"/>
<text x="384.0" y="401.9" font-size="10" text-anchor="end" font-weight="bold" font-family="'Liberation Sans', Arial, sans-serif">1</text>
<line x1="384.4" y1="371.8" x2="388.6" y2="371.8" stroke="#000" stroke-width="1.5"/>
<text x="384.0" y="375.4" font-size="10" text-anchor="end" font-weight="bold" font-family="'Liberation Sans', Arial, sans-serif">2</text>
<line x1="384.4" y1="345.4" x2="388.6" y2="345.4" stroke="#000" stroke-width="1.5"/>
<text x="384.0" y="349.0" font-size="10" text-anchor="end" font-weight="bold" font-family="'Liberation Sans', Arial, sans-serif">3</text>
<line x1="384.4" y1="318.9" x2="388.6" y2="318.9" stroke="#000" stroke-width="1.5"/>
<text x="384.0" y="322.5" font-size="10" text-anchor="end" font-weight="bold" font-family="'Liberation Sans', Arial, sans-serif">4</text>
<line x1="384.4" y1="292.4" x2="388.6" y2="292.4" stroke="#000" stroke-width="1.5"/>
<text x="384.0" y="296.0" font-size="10" text-anchor="end" font-weight="bold" font-family="'Liberation Sans', Arial, sans-serif">5</text>
<line x1="402.7" y1="424.8" x2="402.7" y2="429.8" stroke="#000" stroke-width="1.5"/>
<text x="0.0" y="0.0" font-size="12.8" text-anchor="end" font-weight="bold" font-family="'Liberation Sans', Arial, sans-serif" transform="translate(406.2,437.3) rotate(-45)">C1qb</text>
<line x1="430.6" y1="424.8" x2="430.6" y2="429.8" stroke="#000" stroke-width="1.5"/>
<text x="0.0" y="0.0" font-size="12.8" text-anchor="end" font-weight="bold" font-family="'Liberation Sans', Arial, sans-serif" transform="translate(434.1,437.3) rotate(-45)">C1qc</text>
<line x1="458.4" y1="424.8" x2="458.4" y2="429.8" stroke="#000" stroke-width="1.5"/>
<text x="0.0" y="0.0" font-size="12.8" text-anchor="end" font-weight="bold" font-family="'Liberation Sans', Arial, sans-serif" transform="translate(461.9,437.3) rotate(-45)">Ccl3</text>
<line x1="486.3" y1="424.8" x2="486.3" y2="429.8" stroke="#000" stroke-width="1.5"/>
<text x="0.0" y="0.0" font-size="12.8" text-anchor="end" font-weight="bold" font-family="'Liberation Sans', Arial, sans-serif" transform="translate(489.8,437.3) rotate(-45)">Clec7a</text>
<line x1="514.2" y1="424.8" x2="514.2" y2="429.8" stroke="#000" stroke-width="1.5"/>
<text x="0.0" y="0.0" font-size="12.8" text-anchor="end" font-weight="bold" font-family="'Liberation Sans', Arial, sans-serif" transform="translate(517.7,437.3) rotate(-45)">Cx3cr1</text>
<line x1="542.1" y1="424.8" x2="542.1" y2="429.8" stroke="#000" stroke-width="1.5"/>
<text x="0.0" y="0.0" font-size="12.8" text-anchor="end" font-weight="bold" font-family="'Liberation Sans', Arial, sans-serif" transform="translate(545.6,437.3) rotate(-45)">Cxcl10</text>
<line x1="570.0" y1="424.8" x2="570.0" y2="429.8" stroke="#000" stroke-width="1.5"/>
<text x="0.0" y="0.0" font-size="12.8" text-anchor="end" font-weight="bold" font-family="'Liberation Sans', Arial, sans-serif" transform="translate(573.5,437.3) rotate(-45)">Trem2</text>
<line x1="597.8" y1="424.8" x2="597.8" y2="429.8" stroke="#000" stroke-width="1.5"/>
<text x="0.0" y="0.0" font-size="12.8" text-anchor="end" font-weight="bold" font-family="'Liberation Sans', Arial, sans-serif" transform="translate(601.3,437.3) rotate(-45)">Treml2</text>
<line x1="625.7" y1="424.8" x2="625.7" y2="429.8" stroke="#000" stroke-width="1.5"/>
<text x="0.0" y="0.0" font-size="12.8" text-anchor="end" font-weight="bold" font-family="'Liberation Sans', Arial, sans-serif" transform="translate(629.2,437.3) rotate(-45)">Tyrobp</text>
<text x="0.0" y="0.0" font-size="12.3" text-anchor="middle" font-weight="bold" font-family="'Liberation Sans', Arial, sans-serif" transform="translate(368.3,358.2) rotate(-90)">FC of ND (RPM)</text>
<rect x="399.2" y="279.1" width="14.1" height="7.8" fill="#fff" stroke="#000" stroke-width="1.5"/>
<rect x="398.5" y="293.9" width="15.6" height="9.3" fill="#000"/>
<text x="422.1" y="286.6" font-size="10.5" font-family="'Liberation Sans', Arial, sans-serif">ND</text>
<text x="422.1" y="302.1" font-size="10.5" font-family="'Liberation Sans', Arial, sans-serif">HFD</text>
<line x1="397.5" y1="599.5" x2="397.5" y2="597.9" stroke="#111" stroke-width="1.4"/>
<line x1="395.2" y1="598.5" x2="399.8" y2="598.5" stroke="#111" stroke-width="1.6"/>
<line x1="408.0" y1="582.8" x2="408.0" y2="577.2" stroke="#111" stroke-width="1.4"/>
<line x1="405.7" y1="577.8" x2="410.3" y2="577.8" stroke="#111" stroke-width="1.6"/>
<rect x="394.1" y="600.3" width="6.7" height="33.6" fill="#fff" stroke="#000" stroke-width="1.5"/>
<rect x="403.8" y="582.8" width="8.4" height="51.1" fill="#000"/>
<text x="408.0" y="577.0" font-size="13.5" text-anchor="middle" font-weight="bold" font-family="'Liberation Sans', Arial, sans-serif">*</text>
<line x1="425.4" y1="599.5" x2="425.4" y2="597.5" stroke="#111" stroke-width="1.4"/>
<line x1="423.1" y1="598.1" x2="427.7" y2="598.1" stroke="#111" stroke-width="1.6"/>
<line x1="435.9" y1="582.2" x2="435.9" y2="576.5" stroke="#111" stroke-width="1.4"/>
<line x1="433.6" y1="577.1" x2="438.2" y2="577.1" stroke="#111" stroke-width="1.6"/>
<rect x="422.0" y="600.3" width="6.7" height="33.6" fill="#fff" stroke="#000" stroke-width="1.5"/>
<rect x="431.7" y="582.2" width="8.4" height="51.7" fill="#000"/>
<text x="435.9" y="576.3" font-size="13.5" text-anchor="middle" font-weight="bold" font-family="'Liberation Sans', Arial, sans-serif">*</text>
<line x1="453.2" y1="599.5" x2="453.2" y2="591.9" stroke="#111" stroke-width="1.4"/>
<line x1="450.9" y1="592.5" x2="455.6" y2="592.5" stroke="#111" stroke-width="1.6"/>
<line x1="463.8" y1="550.8" x2="463.8" y2="532.5" stroke="#111" stroke-width="1.4"/>
<line x1="461.4" y1="533.1" x2="466.1" y2="533.1" stroke="#111" stroke-width="1.6"/>
<rect x="449.9" y="600.3" width="6.7" height="33.6" fill="#fff" stroke="#000" stroke-width="1.5"/>
<rect x="459.6" y="550.8" width="8.4" height="83.1" fill="#000"/>
<text x="463.8" y="532.3" font-size="13.5" text-anchor="middle" font-weight="bold" font-family="'Liberation Sans', Arial, sans-serif">*</text>
<line x1="481.1" y1="599.5" x2="481.1" y2="590.5" stroke="#111" stroke-width="1.4"/>
<line x1="478.8" y1="591.1" x2="483.4" y2="591.1" stroke="#111" stroke-width="1.6"/>
<line x1="491.6" y1="552.5" x2="491.6" y2="535.8" stroke="#111" stroke-width="1.4"/>
<line x1="489.3" y1="536.4" x2="493.9" y2="536.4" stroke="#111" stroke-width="1.6"/>
<rect x="477.8" y="600.3" width="6.7" height="33.6" fill="#fff" stroke="#000" stroke-width="1.5"/>
<rect x="487.4" y="552.5" width="8.4" height="81.4" fill="#000"/>
<text x="491.6" y="535.6" font-size="13.5" text-anchor="middle" font-weight="bold" font-family="'Liberation Sans', Arial, sans-serif">*</text>
<line x1="519.5" y1="595.2" x2="519.5" y2="593.9" stroke="#111" stroke-width="1.4"/>
<line x1="517.2" y1="594.5" x2="521.8" y2="594.5" stroke="#111" stroke-width="1.6"/>
<rect x="505.7" y="600.9" width="6.7" height="33.0" fill="#fff" stroke="#000" stroke-width="1.5"/>
<rect x="515.3" y="595.2" width="8.4" height="38.7" fill="#000"/>
<text x="519.5" y="593.7" font-size="13.5" text-anchor="middle" font-weight="bold" font-family="'Liberation Sans', Arial, sans-serif">*</text>
<line x1="536.9" y1="599.5" x2="536.9" y2="591.9" stroke="#111" stroke-width="1.4"/>
<line x1="534.6" y1="592.5" x2="539.2" y2="592.5" stroke="#111" stroke-width="1.6"/>
<line x1="547.4" y1="533.5" x2="547.4" y2="508.4" stroke="#111" stroke-width="1.4"/>
<line x1="545.1" y1="509.0" x2="549.7" y2="509.0" stroke="#111" stroke-width="1.6"/>
<rect x="533.5" y="600.3" width="6.7" height="33.6" fill="#fff" stroke="#000" stroke-width="1.5"/>
<rect x="543.2" y="533.5" width="8.4" height="100.4" fill="#000"/>
<text x="547.4" y="508.2" font-size="13.5" text-anchor="middle" font-weight="bold" font-family="'Liberation Sans', Arial, sans-serif">*</text>
<line x1="564.8" y1="599.5" x2="564.8" y2="596.9" stroke="#111" stroke-width="1.4"/>
<line x1="562.5" y1="597.5" x2="567.0" y2="597.5" stroke="#111" stroke-width="1.6"/>
<line x1="575.2" y1="575.8" x2="575.2" y2="566.2" stroke="#111" stroke-width="1.4"/>
<line x1="573.0" y1="566.8" x2="577.5" y2="566.8" stroke="#111" stroke-width="1.6"/>
<rect x="561.4" y="600.3" width="6.7" height="33.6" fill="#fff" stroke="#000" stroke-width="1.5"/>
<rect x="571.1" y="575.8" width="8.4" height="58.1" fill="#000"/>
<text x="575.2" y="566.0" font-size="13.5" text-anchor="middle" font-weight="bold" font-family="'Liberation Sans', Arial, sans-serif">*</text>
<line x1="592.6" y1="599.5" x2="592.6" y2="597.5" stroke="#111" stroke-width="1.4"/>
<line x1="590.3" y1="598.1" x2="594.9" y2="598.1" stroke="#111" stroke-width="1.6"/>
<line x1="603.1" y1="572.5" x2="603.1" y2="562.2" stroke="#111" stroke-width="1.4"/>
<line x1="600.8" y1="562.8" x2="605.4" y2="562.8" stroke="#111" stroke-width="1.6"/>
<rect x="589.3" y="600.3" width="6.7" height="33.6" fill="#fff" stroke="#000" stroke-width="1.5"/>
<rect x="598.9" y="572.5" width="8.4" height="61.4" fill="#000"/>
<text x="603.1" y="562.0" font-size="13.5" text-anchor="middle" font-weight="bold" font-family="'Liberation Sans', Arial, sans-serif">*</text>
<line x1="620.5" y1="599.5" x2="620.5" y2="596.5" stroke="#111" stroke-width="1.4"/>
<line x1="618.2" y1="597.1" x2="622.8" y2="597.1" stroke="#111" stroke-width="1.6"/>
<line x1="631.0" y1="576.2" x2="631.0" y2="567.5" stroke="#111" stroke-width="1.4"/>
<line x1="628.7" y1="568.1" x2="633.3" y2="568.1" stroke="#111" stroke-width="1.6"/>
<rect x="617.2" y="600.3" width="6.7" height="33.6" fill="#fff" stroke="#000" stroke-width="1.5"/>
<rect x="626.8" y="576.2" width="8.4" height="57.7" fill="#000"/>
<text x="631.0" y="567.3" font-size="13.5" text-anchor="middle" font-weight="bold" font-family="'Liberation Sans', Arial, sans-serif">*</text>
<line x1="388.6" y1="634.9" x2="388.6" y2="499.8" stroke="#000" stroke-width="1.9"/>
<line x1="387.7" y1="633.9" x2="640.0" y2="633.9" stroke="#000" stroke-width="1.9"/>
<line x1="384.4" y1="633.9" x2="388.6" y2="633.9" stroke="#000" stroke-width="1.5"/>
<text x="384.0" y="637.5" font-size="10" text-anchor="end" font-weight="bold" font-family="'Liberation Sans', Arial, sans-serif">0</text>
<line x1="384.4" y1="600.5" x2="388.6" y2="600.5" stroke="#000" stroke-width="1.5"/>
<text x="384.0" y="604.1" font-size="10" text-anchor="end" font-weight="bold" font-family="'Liberation Sans', Arial, sans-serif">1</text>
<line x1="384.4" y1="567.2" x2="388.6" y2="567.2" stroke="#000" stroke-width="1.5"/>
<text x="384.0" y="570.8" font-size="10" text-anchor="end" font-weight="bold" font-family="'Liberation Sans', Arial, sans-serif">2</text>
<line x1="384.4" y1="533.8" x2="388.6" y2="533.8" stroke="#000" stroke-width="1.5"/>
<text x="384.0" y="537.4" font-size="10" text-anchor="end" font-weight="bold" font-family="'Liberation Sans', Arial, sans-serif">3</text>
<line x1="384.4" y1="500.4" x2="388.6" y2="500.4" stroke="#000" stroke-width="1.5"/>
<text x="384.0" y="504.0" font-size="10" text-anchor="end" font-weight="bold" font-family="'Liberation Sans', Arial, sans-serif">4</text>
<line x1="402.7" y1="633.9" x2="402.7" y2="638.9" stroke="#000" stroke-width="1.5"/>
<text x="0.0" y="0.0" font-size="12.8" text-anchor="end" font-weight="bold" font-family="'Liberation Sans', Arial, sans-serif" transform="translate(406.2,646.4) rotate(-45)">C1qb</text>
<line x1="430.6" y1="633.9" x2="430.6" y2="638.9" stroke="#000" stroke-width="1.5"/>
<text x="0.0" y="0.0" font-size="12.8" text-anchor="end" font-weight="bold" font-family="'Liberation Sans', Arial, sans-serif" transform="translate(434.1,646.4) rotate(-45)">C1qc</text>
<line x1="458.4" y1="633.9" x2="458.4" y2="638.9" stroke="#000" stroke-width="1.5"/>
<text x="0.0" y="0.0" font-size="12.8" text-anchor="end" font-weight="bold" font-family="'Liberation Sans', Arial, sans-serif" transform="translate(461.9,646.4) rotate(-45)">Ccl3</text>
<line x1="486.3" y1="633.9" x2="486.3" y2="638.9" stroke="#000" stroke-width="1.5"/>
<text x="0.0" y="0.0" font-size="12.8" text-anchor="end" font-weight="bold" font-family="'Liberation Sans', Arial, sans-serif" transform="translate(489.8,646.4) rotate(-45)">Clec7a</text>
<line x1="514.2" y1="633.9" x2="514.2" y2="638.9" stroke="#000" stroke-width="1.5"/>
<text x="0.0" y="0.0" font-size="12.8" text-anchor="end" font-weight="bold" font-family="'Liberation Sans', Arial, sans-serif" transform="translate(517.7,646.4) rotate(-45)">Cx3cr1</text>
<line x1="542.1" y1="633.9" x2="542.1" y2="638.9" stroke="#000" stroke-width="1.5"/>
<text x="0.0" y="0.0" font-size="12.8" text-anchor="end" font-weight="bold" font-family="'Liberation Sans', Arial, sans-serif" transform="translate(545.6,646.4) rotate(-45)">Cxcl10</text>
<line x1="570.0" y1="633.9" x2="570.0" y2="638.9" stroke="#000" stroke-width="1.5"/>
<text x="0.0" y="0.0" font-size="12.8" text-anchor="end" font-weight="bold" font-family="'Liberation Sans', Arial, sans-serif" transform="translate(573.5,646.4) rotate(-45)">Trem2</text>
<line x1="597.8" y1="633.9" x2="597.8" y2="638.9" stroke="#000" stroke-width="1.5"/>
<text x="0.0" y="0.0" font-size="12.8" text-anchor="end" font-weight="bold" font-family="'Liberation Sans', Arial, sans-serif" transform="translate(601.3,646.4) rotate(-45)">Treml2</text>
<line x1="625.7" y1="633.9" x2="625.7" y2="638.9" stroke="#000" stroke-width="1.5"/>
<text x="0.0" y="0.0" font-size="12.8" text-anchor="end" font-weight="bold" font-family="'Liberation Sans', Arial, sans-serif" transform="translate(629.2,646.4) rotate(-45)">Tyrobp</text>
<text x="0.0" y="0.0" font-size="12.0" text-anchor="middle" font-weight="bold" font-family="'Liberation Sans', Arial, sans-serif" transform="translate(368.3,566.3) rotate(-90)">FC of ND (qPCR)</text>
<rect x="399.2" y="488.4" width="14.1" height="7.5" fill="#fff" stroke="#000" stroke-width="1.5"/>
<rect x="398.5" y="502.6" width="15.6" height="9.3" fill="#000"/>
<text x="422.1" y="495.6" font-size="10.5" font-family="'Liberation Sans', Arial, sans-serif">ND</text>
<text x="422.1" y="511.0" font-size="10.5" font-family="'Liberation Sans', Arial, sans-serif">HFD</text>
<line x1="49.9" y1="751.7" x2="49.9" y2="734.7" stroke="#111" stroke-width="1.4"/>
<line x1="47.6" y1="735.3" x2="52.2" y2="735.3" stroke="#111" stroke-width="1.6"/>
<line x1="62.2" y1="805.0" x2="62.2" y2="796.4" stroke="#111" stroke-width="1.4"/>
<line x1="59.9" y1="797.0" x2="64.5" y2="797.0" stroke="#111" stroke-width="1.6"/>
<rect x="46.0" y="752.4" width="7.9" height="82.8" fill="#fff" stroke="#000" stroke-width="1.5"/>
<rect x="57.3" y="805.0" width="9.8" height="30.2" fill="#000"/>
<text x="62.2" y="795.8" font-size="13.5" text-anchor="middle" font-weight="bold" font-family="'Liberation Sans', Arial, sans-serif">*</text>
<line x1="79.0" y1="749.0" x2="79.0" y2="730.2" stroke="#111" stroke-width="1.4"/>
<line x1="76.7" y1="730.8" x2="81.3" y2="730.8" stroke="#111" stroke-width="1.6"/>
<line x1="91.3" y1="799.2" x2="91.3" y2="791.6" stroke="#111" stroke-width="1.4"/>
<line x1="89.0" y1="792.2" x2="93.6" y2="792.2" stroke="#111" stroke-width="1.6"/>
<rect x="75.0" y="749.8" width="7.9" height="85.4" fill="#fff" stroke="#000" stroke-width="1.5"/>
<rect x="86.4" y="799.2" width="9.8" height="36.0" fill="#000"/>
<text x="91.3" y="791.0" font-size="13.5" text-anchor="middle" font-weight="bold" font-family="'Liberation Sans', Arial, sans-serif">*</text>
<line x1="108.1" y1="747.0" x2="108.1" y2="740.2" stroke="#111" stroke-width="1.4"/>
<line x1="105.8" y1="740.8" x2="110.4" y2="740.8" stroke="#111" stroke-width="1.6"/>
<line x1="120.4" y1="787.3" x2="120.4" y2="780.5" stroke="#111" stroke-width="1.4"/>
<line x1="118.1" y1="781.1" x2="122.7" y2="781.1" stroke="#111" stroke-width="1.6"/>
<rect x="104.1" y="747.8" width="7.9" height="87.5" fill="#fff" stroke="#000" stroke-width="1.5"/>
<rect x="115.5" y="787.3" width="9.8" height="47.9" fill="#000"/>
<text x="120.4" y="779.9" font-size="13.5" text-anchor="middle" font-weight="bold" font-family="'Liberation Sans', Arial, sans-serif">**</text>
<line x1="137.1" y1="747.8" x2="137.1" y2="743.8" stroke="#111" stroke-width="1.4"/>
<line x1="134.8" y1="744.4" x2="139.4" y2="744.4" stroke="#111" stroke-width="1.6"/>
<line x1="149.4" y1="784.8" x2="149.4" y2="781.0" stroke="#111" stroke-width="1.4"/>
<line x1="147.1" y1="781.6" x2="151.7" y2="781.6" stroke="#111" stroke-width="1.6"/>
<rect x="133.2" y="748.5" width="7.9" height="86.7" fill="#fff" stroke="#000" stroke-width="1.5"/>
<rect x="144.5" y="784.8" width="9.8" height="50.4" fill="#000"/>
<text x="149.4" y="780.4" font-size="13.5" text-anchor="middle" font-weight="bold" font-family="'Liberation Sans', Arial, sans-serif">**</text>
<line x1="166.2" y1="744.9" x2="166.2" y2="720.1" stroke="#111" stroke-width="1.4"/>
<line x1="163.9" y1="720.7" x2="168.5" y2="720.7" stroke="#111" stroke-width="1.6"/>
<line x1="178.5" y1="820.9" x2="178.5" y2="817.7" stroke="#111" stroke-width="1.4"/>
<line x1="176.2" y1="818.3" x2="180.8" y2="818.3" stroke="#111" stroke-width="1.6"/>
<rect x="162.3" y="745.6" width="7.9" height="89.6" fill="#fff" stroke="#000" stroke-width="1.5"/>
<rect x="173.6" y="820.9" width="9.8" height="14.3" fill="#000"/>
<text x="178.5" y="817.1" font-size="13.5" text-anchor="middle" font-weight="bold" font-family="'Liberation Sans', Arial, sans-serif">**</text>
<line x1="195.3" y1="748.9" x2="195.3" y2="746.2" stroke="#111" stroke-width="1.4"/>
<line x1="193.0" y1="746.8" x2="197.6" y2="746.8" stroke="#111" stroke-width="1.6"/>
<line x1="207.6" y1="770.2" x2="207.6" y2="768.3" stroke="#111" stroke-width="1.4"/>
<line x1="205.3" y1="768.9" x2="209.9" y2="768.9" stroke="#111" stroke-width="1.6"/>
<rect x="191.3" y="749.7" width="7.9" height="85.5" fill="#fff" stroke="#000" stroke-width="1.5"/>
<rect x="202.7" y="770.2" width="9.8" height="65.0" fill="#000"/>
<text x="207.6" y="767.7" font-size="13.5" text-anchor="middle" font-weight="bold" font-family="'Liberation Sans', Arial, sans-serif">**</text>
<line x1="224.4" y1="750.2" x2="224.4" y2="745.4" stroke="#111" stroke-width="1.4"/>
<line x1="222.1" y1="746.0" x2="226.7" y2="746.0" stroke="#111" stroke-width="1.6"/>
<line x1="236.7" y1="770.2" x2="236.7" y2="766.7" stroke="#111" stroke-width="1.4"/>
<line x1="234.4" y1="767.3" x2="239.0" y2="767.3" stroke="#111" stroke-width="1.6"/>
<rect x="220.4" y="750.9" width="7.9" height="84.3" fill="#fff" stroke="#000" stroke-width="1.5"/>
<rect x="231.8" y="770.2" width="9.8" height="65.0" fill="#000"/>
<text x="236.7" y="766.1" font-size="13.5" text-anchor="middle" font-weight="bold" font-family="'Liberation Sans', Arial, sans-serif">**</text>
<line x1="253.5" y1="748.1" x2="253.5" y2="740.9" stroke="#111" stroke-width="1.4"/>
<line x1="251.2" y1="741.5" x2="255.8" y2="741.5" stroke="#111" stroke-width="1.6"/>
<line x1="265.8" y1="780.3" x2="265.8" y2="774.2" stroke="#111" stroke-width="1.4"/>
<line x1="263.5" y1="774.8" x2="268.1" y2="774.8" stroke="#111" stroke-width="1.6"/>
<rect x="249.5" y="748.8" width="7.9" height="86.4" fill="#fff" stroke="#000" stroke-width="1.5"/>
<rect x="260.9" y="780.3" width="9.8" height="54.9" fill="#000"/>
<text x="265.8" y="773.6" font-size="13.5" text-anchor="middle" font-weight="bold" font-family="'Liberation Sans', Arial, sans-serif">**</text>
<line x1="282.5" y1="752.9" x2="282.5" y2="734.5" stroke="#111" stroke-width="1.4"/>
<line x1="280.2" y1="735.1" x2="284.8" y2="735.1" stroke="#111" stroke-width="1.6"/>
<line x1="294.8" y1="807.5" x2="294.8" y2="796.3" stroke="#111" stroke-width="1.4"/>
<line x1="292.5" y1="796.9" x2="297.1" y2="796.9" stroke="#111" stroke-width="1.6"/>
<rect x="278.6" y="753.7" width="7.9" height="81.5" fill="#fff" stroke="#000" stroke-width="1.5"/>
<rect x="289.9" y="807.5" width="9.8" height="27.7" fill="#000"/>
<text x="294.8" y="795.7" font-size="13.5" text-anchor="middle" font-weight="bold" font-family="'Liberation Sans', Arial, sans-serif">**</text>
<line x1="311.6" y1="754.5" x2="311.6" y2="732.1" stroke="#111" stroke-width="1.4"/>
<line x1="309.3" y1="732.7" x2="313.9" y2="732.7" stroke="#111" stroke-width="1.6"/>
<line x1="323.9" y1="809.7" x2="323.9" y2="800.6" stroke="#111" stroke-width="1.4"/>
<line x1="321.6" y1="801.2" x2="326.2" y2="801.2" stroke="#111" stroke-width="1.6"/>
<rect x="307.7" y="755.2" width="7.9" height="80.0" fill="#fff" stroke="#000" stroke-width="1.5"/>
<rect x="319.0" y="809.7" width="9.8" height="25.5" fill="#000"/>
<text x="323.9" y="800.0" font-size="13.5" text-anchor="middle" font-weight="bold" font-family="'Liberation Sans', Arial, sans-serif">*</text>
<line x1="40.8" y1="836.2" x2="40.8" y2="702.3" stroke="#000" stroke-width="1.9"/>
<line x1="39.9" y1="835.2" x2="332.0" y2="835.2" stroke="#000" stroke-width="1.9"/>
<line x1="36.6" y1="835.2" x2="40.8" y2="835.2" stroke="#000" stroke-width="1.5"/>
<text x="36.2" y="838.8" font-size="10" text-anchor="end" font-weight="bold" font-family="'Liberation Sans', Arial, sans-serif">0.0</text>
<line x1="36.6" y1="791.1" x2="40.8" y2="791.1" stroke="#000" stroke-width="1.5"/>
<text x="36.2" y="794.7" font-size="10" text-anchor="end" font-weight="bold" font-family="'Liberation Sans', Arial, sans-serif">0.5</text>
<line x1="36.6" y1="747.0" x2="40.8" y2="747.0" stroke="#000" stroke-width="1.5"/>
<text x="36.2" y="750.6" font-size="10" text-anchor="end" font-weight="bold" font-family="'Liberation Sans', Arial, sans-serif">1.0</text>
<line x1="36.6" y1="702.9" x2="40.8" y2="702.9" stroke="#000" stroke-width="1.5"/>
<text x="36.2" y="706.5" font-size="10" text-anchor="end" font-weight="bold" font-family="'Liberation Sans', Arial, sans-serif">1.5</text>
<line x1="55.5" y1="835.2" x2="55.5" y2="840.2" stroke="#000" stroke-width="1.5"/>
<text x="0.0" y="0.0" font-size="13" text-anchor="end" font-weight="bold" font-family="'Liberation Sans', Arial, sans-serif" transform="translate(59.0,847.7) rotate(-45)">Calb2</text>
<line x1="84.6" y1="835.2" x2="84.6" y2="840.2" stroke="#000" stroke-width="1.5"/>
<text x="0.0" y="0.0" font-size="13" text-anchor="end" font-weight="bold" font-family="'Liberation Sans', Arial, sans-serif" transform="translate(88.1,847.7) rotate(-45)">Dlk1</text>
<line x1="113.7" y1="835.2" x2="113.7" y2="840.2" stroke="#000" stroke-width="1.5"/>
<text x="0.0" y="0.0" font-size="13" text-anchor="end" font-weight="bold" font-family="'Liberation Sans', Arial, sans-serif" transform="translate(117.2,847.7) rotate(-45)">Egr2</text>
<line x1="142.7" y1="835.2" x2="142.7" y2="840.2" stroke="#000" stroke-width="1.5"/>
<text x="0.0" y="0.0" font-size="13" text-anchor="end" font-weight="bold" font-family="'Liberation Sans', Arial, sans-serif" transform="translate(146.2,847.7) rotate(-45)">Fosl2</text>
<line x1="171.8" y1="835.2" x2="171.8" y2="840.2" stroke="#000" stroke-width="1.5"/>
<text x="0.0" y="0.0" font-size="13" text-anchor="end" font-weight="bold" font-family="'Liberation Sans', Arial, sans-serif" transform="translate(175.3,847.7) rotate(-45)">Gnrh1</text>
<line x1="200.9" y1="835.2" x2="200.9" y2="840.2" stroke="#000" stroke-width="1.5"/>
<text x="0.0" y="0.0" font-size="13" text-anchor="end" font-weight="bold" font-family="'Liberation Sans', Arial, sans-serif" transform="translate(204.4,847.7) rotate(-45)">Kdm6b</text>
<line x1="230.0" y1="835.2" x2="230.0" y2="840.2" stroke="#000" stroke-width="1.5"/>
<text x="0.0" y="0.0" font-size="13" text-anchor="end" font-weight="bold" font-family="'Liberation Sans', Arial, sans-serif" transform="translate(233.5,847.7) rotate(-45)">Klf4</text>
<line x1="259.1" y1="835.2" x2="259.1" y2="840.2" stroke="#000" stroke-width="1.5"/>
<text x="0.0" y="0.0" font-size="13" text-anchor="end" font-weight="bold" font-family="'Liberation Sans', Arial, sans-serif" transform="translate(262.6,847.7) rotate(-45)">Nr4a3</text>
<line x1="288.1" y1="835.2" x2="288.1" y2="840.2" stroke="#000" stroke-width="1.5"/>
<text x="0.0" y="0.0" font-size="13" text-anchor="end" font-weight="bold" font-family="'Liberation Sans', Arial, sans-serif" transform="translate(291.6,847.7) rotate(-45)">Sp8</text>
<line x1="317.2" y1="835.2" x2="317.2" y2="840.2" stroke="#000" stroke-width="1.5"/>
<text x="0.0" y="0.0" font-size="13" text-anchor="end" font-weight="bold" font-family="'Liberation Sans', Arial, sans-serif" transform="translate(320.7,847.7) rotate(-45)">Th</text>
<text x="0.0" y="0.0" font-size="12.5" text-anchor="middle" font-weight="bold" font-family="'Liberation Sans', Arial, sans-serif" transform="translate(11.2,767.0) rotate(-90)">FC of ND (RPM)</text>
<rect x="52.4" y="689.6" width="12.9" height="7.3" fill="#fff" stroke="#000" stroke-width="1.5"/>
<rect x="51.6" y="704.0" width="14.4" height="8.8" fill="#000"/>
<text x="74.3" y="696.7" font-size="10.5" font-family="'Liberation Sans', Arial, sans-serif">ND</text>
<text x="74.3" y="711.6" font-size="10.5" font-family="'Liberation Sans', Arial, sans-serif">HFD</text>
<line x1="390.2" y1="747.0" x2="390.2" y2="726.9" stroke="#111" stroke-width="1.4"/>
<line x1="387.9" y1="727.5" x2="392.5" y2="727.5" stroke="#111" stroke-width="1.6"/>
<line x1="402.5" y1="801.7" x2="402.5" y2="793.4" stroke="#111" stroke-width="1.4"/>
<line x1="400.2" y1="794.0" x2="404.8" y2="794.0" stroke="#111" stroke-width="1.6"/>
<rect x="386.2" y="747.8" width="7.9" height="87.9" fill="#fff" stroke="#000" stroke-width="1.5"/>
<rect x="397.6" y="801.7" width="9.8" height="33.9" fill="#000"/>
<text x="402.5" y="792.8" font-size="13.5" text-anchor="middle" font-weight="bold" font-family="'Liberation Sans', Arial, sans-serif">*</text>
<line x1="419.2" y1="747.0" x2="419.2" y2="728.7" stroke="#111" stroke-width="1.4"/>
<line x1="416.9" y1="729.3" x2="421.5" y2="729.3" stroke="#111" stroke-width="1.6"/>
<line x1="431.5" y1="799.0" x2="431.5" y2="793.4" stroke="#111" stroke-width="1.4"/>
<line x1="429.2" y1="794.0" x2="433.8" y2="794.0" stroke="#111" stroke-width="1.6"/>
<rect x="415.3" y="747.8" width="7.9" height="87.9" fill="#fff" stroke="#000" stroke-width="1.5"/>
<rect x="426.6" y="799.0" width="9.8" height="36.6" fill="#000"/>
<text x="431.5" y="792.8" font-size="13.5" text-anchor="middle" font-weight="bold" font-family="'Liberation Sans', Arial, sans-serif">**</text>
<line x1="448.3" y1="747.0" x2="448.3" y2="739.3" stroke="#111" stroke-width="1.4"/>
<line x1="446.0" y1="739.9" x2="450.6" y2="739.9" stroke="#111" stroke-width="1.6"/>
<line x1="460.6" y1="790.2" x2="460.6" y2="781.3" stroke="#111" stroke-width="1.4"/>
<line x1="458.3" y1="781.9" x2="462.9" y2="781.9" stroke="#111" stroke-width="1.6"/>
<rect x="444.3" y="747.8" width="7.9" height="87.9" fill="#fff" stroke="#000" stroke-width="1.5"/>
<rect x="455.7" y="790.2" width="9.8" height="45.4" fill="#000"/>
<text x="460.6" y="780.7" font-size="13.5" text-anchor="middle" font-weight="bold" font-family="'Liberation Sans', Arial, sans-serif">**</text>
<line x1="477.3" y1="747.0" x2="477.3" y2="741.3" stroke="#111" stroke-width="1.4"/>
<line x1="475.0" y1="741.9" x2="479.6" y2="741.9" stroke="#111" stroke-width="1.6"/>
<line x1="489.6" y1="778.3" x2="489.6" y2="772.8" stroke="#111" stroke-width="1.4"/>
<line x1="487.3" y1="773.4" x2="491.9" y2="773.4" stroke="#111" stroke-width="1.6"/>
<rect x="473.4" y="747.8" width="7.9" height="87.9" fill="#fff" stroke="#000" stroke-width="1.5"/>
<rect x="484.7" y="778.3" width="9.8" height="57.3" fill="#000"/>
<text x="489.6" y="772.2" font-size="13.5" text-anchor="middle" font-weight="bold" font-family="'Liberation Sans', Arial, sans-serif">**</text>
<line x1="506.4" y1="747.0" x2="506.4" y2="720.7" stroke="#111" stroke-width="1.4"/>
<line x1="504.1" y1="721.3" x2="508.7" y2="721.3" stroke="#111" stroke-width="1.6"/>
<line x1="518.7" y1="820.7" x2="518.7" y2="815.3" stroke="#111" stroke-width="1.4"/>
<line x1="516.4" y1="815.9" x2="521.0" y2="815.9" stroke="#111" stroke-width="1.6"/>
<rect x="502.4" y="747.8" width="7.9" height="87.9" fill="#fff" stroke="#000" stroke-width="1.5"/>
<rect x="513.8" y="820.7" width="9.8" height="14.9" fill="#000"/>
<text x="518.7" y="814.7" font-size="13.5" text-anchor="middle" font-weight="bold" font-family="'Liberation Sans', Arial, sans-serif">*</text>
<line x1="535.4" y1="747.0" x2="535.4" y2="741.5" stroke="#111" stroke-width="1.4"/>
<line x1="533.1" y1="742.1" x2="537.7" y2="742.1" stroke="#111" stroke-width="1.6"/>
<line x1="547.7" y1="768.7" x2="547.7" y2="765.5" stroke="#111" stroke-width="1.4"/>
<line x1="545.4" y1="766.1" x2="550.0" y2="766.1" stroke="#111" stroke-width="1.6"/>
<rect x="531.5" y="747.8" width="7.9" height="87.9" fill="#fff" stroke="#000" stroke-width="1.5"/>
<rect x="542.8" y="768.7" width="9.8" height="66.9" fill="#000"/>
<text x="547.7" y="764.9" font-size="13.5" text-anchor="middle" font-weight="bold" font-family="'Liberation Sans', Arial, sans-serif">**</text>
<line x1="564.4" y1="747.0" x2="564.4" y2="741.5" stroke="#111" stroke-width="1.4"/>
<line x1="562.1" y1="742.1" x2="566.7" y2="742.1" stroke="#111" stroke-width="1.6"/>
<line x1="576.7" y1="766.5" x2="576.7" y2="762.3" stroke="#111" stroke-width="1.4"/>
<line x1="574.4" y1="762.9" x2="579.0" y2="762.9" stroke="#111" stroke-width="1.6"/>
<rect x="560.5" y="747.8" width="7.9" height="87.9" fill="#fff" stroke="#000" stroke-width="1.5"/>
<rect x="571.8" y="766.5" width="9.8" height="69.1" fill="#000"/>
<text x="576.7" y="761.7" font-size="13.5" text-anchor="middle" font-weight="bold" font-family="'Liberation Sans', Arial, sans-serif">**</text>
<line x1="593.5" y1="747.0" x2="593.5" y2="740.9" stroke="#111" stroke-width="1.4"/>
<line x1="591.2" y1="741.5" x2="595.8" y2="741.5" stroke="#111" stroke-width="1.6"/>
<line x1="605.8" y1="775.4" x2="605.8" y2="769.2" stroke="#111" stroke-width="1.4"/>
<line x1="603.5" y1="769.8" x2="608.1" y2="769.8" stroke="#111" stroke-width="1.6"/>
<rect x="589.5" y="747.8" width="7.9" height="87.9" fill="#fff" stroke="#000" stroke-width="1.5"/>
<rect x="600.9" y="775.4" width="9.8" height="60.2" fill="#000"/>
<text x="605.8" y="768.6" font-size="13.5" text-anchor="middle" font-weight="bold" font-family="'Liberation Sans', Arial, sans-serif">**</text>
<line x1="622.5" y1="747.0" x2="622.5" y2="724.7" stroke="#111" stroke-width="1.4"/>
<line x1="620.2" y1="725.3" x2="624.8" y2="725.3" stroke="#111" stroke-width="1.6"/>
<line x1="634.8" y1="810.5" x2="634.8" y2="799.3" stroke="#111" stroke-width="1.4"/>
<line x1="632.5" y1="799.9" x2="637.1" y2="799.9" stroke="#111" stroke-width="1.6"/>
<rect x="618.6" y="747.8" width="7.9" height="87.9" fill="#fff" stroke="#000" stroke-width="1.5"/>
<rect x="629.9" y="810.5" width="9.8" height="25.1" fill="#000"/>
<text x="634.8" y="798.7" font-size="13.5" text-anchor="middle" font-weight="bold" font-family="'Liberation Sans', Arial, sans-serif">*</text>
<line x1="651.6" y1="747.0" x2="651.6" y2="719.9" stroke="#111" stroke-width="1.4"/>
<line x1="649.3" y1="720.5" x2="653.9" y2="720.5" stroke="#111" stroke-width="1.6"/>
<line x1="663.9" y1="820.7" x2="663.9" y2="819.1" stroke="#111" stroke-width="1.4"/>
<line x1="661.6" y1="819.7" x2="666.2" y2="819.7" stroke="#111" stroke-width="1.6"/>
<rect x="647.6" y="747.8" width="7.9" height="87.9" fill="#fff" stroke="#000" stroke-width="1.5"/>
<rect x="659.0" y="820.7" width="9.8" height="14.9" fill="#000"/>
<text x="663.9" y="818.5" font-size="13.5" text-anchor="middle" font-weight="bold" font-family="'Liberation Sans', Arial, sans-serif">**</text>
<line x1="381.6" y1="836.6" x2="381.6" y2="702.1" stroke="#000" stroke-width="1.9"/>
<line x1="380.7" y1="835.6" x2="672.0" y2="835.6" stroke="#000" stroke-width="1.9"/>
<line x1="377.4" y1="835.6" x2="381.6" y2="835.6" stroke="#000" stroke-width="1.5"/>
<text x="377.0" y="839.2" font-size="10" text-anchor="end" font-weight="bold" font-family="'Liberation Sans', Arial, sans-serif">0.0</text>
<line x1="377.4" y1="791.3" x2="381.6" y2="791.3" stroke="#000" stroke-width="1.5"/>
<text x="377.0" y="794.9" font-size="10" text-anchor="end" font-weight="bold" font-family="'Liberation Sans', Arial, sans-serif">0.5</text>
<line x1="377.4" y1="747.0" x2="381.6" y2="747.0" stroke="#000" stroke-width="1.5"/>
<text x="377.0" y="750.6" font-size="10" text-anchor="end" font-weight="bold" font-family="'Liberation Sans', Arial, sans-serif">1.0</text>
<line x1="377.4" y1="702.7" x2="381.6" y2="702.7" stroke="#000" stroke-width="1.5"/>
<text x="377.0" y="706.3" font-size="10" text-anchor="end" font-weight="bold" font-family="'Liberation Sans', Arial, sans-serif">1.5</text>
<line x1="395.8" y1="835.6" x2="395.8" y2="840.6" stroke="#000" stroke-width="1.5"/>
<text x="0.0" y="0.0" font-size="13" text-anchor="end" font-weight="bold" font-family="'Liberation Sans', Arial, sans-serif" transform="translate(399.3,848.1) rotate(-45)">Calb2</text>
<line x1="424.8" y1="835.6" x2="424.8" y2="840.6" stroke="#000" stroke-width="1.5"/>
<text x="0.0" y="0.0" font-size="13" text-anchor="end" font-weight="bold" font-family="'Liberation Sans', Arial, sans-serif" transform="translate(428.3,848.1) rotate(-45)">Dlk1</text>
<line x1="453.9" y1="835.6" x2="453.9" y2="840.6" stroke="#000" stroke-width="1.5"/>
<text x="0.0" y="0.0" font-size="13" text-anchor="end" font-weight="bold" font-family="'Liberation Sans', Arial, sans-serif" transform="translate(457.4,848.1) rotate(-45)">Egr2</text>
<line x1="482.9" y1="835.6" x2="482.9" y2="840.6" stroke="#000" stroke-width="1.5"/>
<text x="0.0" y="0.0" font-size="13" text-anchor="end" font-weight="bold" font-family="'Liberation Sans', Arial, sans-serif" transform="translate(486.4,848.1) rotate(-45)">Fosl2</text>
<line x1="512.0" y1="835.6" x2="512.0" y2="840.6" stroke="#000" stroke-width="1.5"/>
<text x="0.0" y="0.0" font-size="13" text-anchor="end" font-weight="bold" font-family="'Liberation Sans', Arial, sans-serif" transform="translate(515.5,848.1) rotate(-45)">Gnrh1</text>
<line x1="541.0" y1="835.6" x2="541.0" y2="840.6" stroke="#000" stroke-width="1.5"/>
<text x="0.0" y="0.0" font-size="13" text-anchor="end" font-weight="bold" font-family="'Liberation Sans', Arial, sans-serif" transform="translate(544.5,848.1) rotate(-45)">Kdm6b</text>
<line x1="570.0" y1="835.6" x2="570.0" y2="840.6" stroke="#000" stroke-width="1.5"/>
<text x="0.0" y="0.0" font-size="13" text-anchor="end" font-weight="bold" font-family="'Liberation Sans', Arial, sans-serif" transform="translate(573.5,848.1) rotate(-45)">Klf4</text>
<line x1="599.1" y1="835.6" x2="599.1" y2="840.6" stroke="#000" stroke-width="1.5"/>
<text x="0.0" y="0.0" font-size="13" text-anchor="end" font-weight="bold" font-family="'Liberation Sans', Arial, sans-serif" transform="translate(602.6,848.1) rotate(-45)">Nr4a3</text>
<line x1="628.1" y1="835.6" x2="628.1" y2="840.6" stroke="#000" stroke-width="1.5"/>
<text x="0.0" y="0.0" font-size="13" text-anchor="end" font-weight="bold" font-family="'Liberation Sans', Arial, sans-serif" transform="translate(631.6,848.1) rotate(-45)">Sp8</text>
<line x1="657.2" y1="835.6" x2="657.2" y2="840.6" stroke="#000" stroke-width="1.5"/>
<text x="0.0" y="0.0" font-size="13" text-anchor="end" font-weight="bold" font-family="'Liberation Sans', Arial, sans-serif" transform="translate(660.7,848.1) rotate(-45)">Th</text>
<text x="0.0" y="0.0" font-size="12.5" text-anchor="middle" font-weight="bold" font-family="'Liberation Sans', Arial, sans-serif" transform="translate(352.5,768.3) rotate(-90)">FC of ND (qPCR)</text>
<rect x="389.1" y="688.4" width="13.6" height="7.3" fill="#fff" stroke="#000" stroke-width="1.5"/>
<rect x="388.4" y="703.2" width="15.1" height="8.8" fill="#000"/>
<text x="411.8" y="695.2" font-size="10.5" font-family="'Liberation Sans', Arial, sans-serif">ND</text>
<text x="411.8" y="710.8" font-size="10.5" font-family="'Liberation Sans', Arial, sans-serif">HFD</text>
<text x="342.6" y="288.6" font-size="19" font-weight="bold" textLength="10.1" lengthAdjust="spacingAndGlyphs">C</text>
<text x="341.9" y="493.7" font-size="19" font-weight="bold" textLength="12.0" lengthAdjust="spacingAndGlyphs">D</text>
<text x="6.6" y="690.5" font-size="19" font-weight="bold" textLength="9.3" lengthAdjust="spacingAndGlyphs">E</text>
<text x="341.1" y="688.3" font-size="19" font-weight="bold" textLength="8.7" lengthAdjust="spacingAndGlyphs">F</text>
</svg></body></html>
